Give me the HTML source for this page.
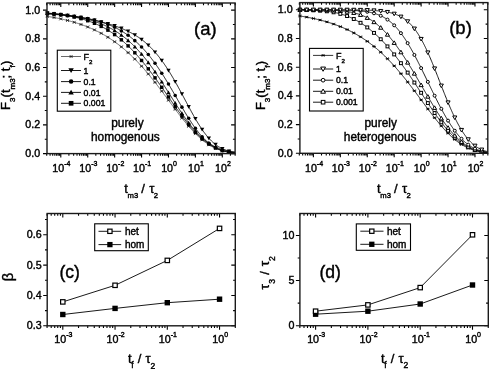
<!DOCTYPE html>
<html><head><meta charset="utf-8"><title>figure</title>
<style>html,body{margin:0;padding:0;background:#fff;}svg{display:block;}</style>
</head><body>
<svg width="493" height="369" viewBox="0 0 493 369" font-family='"Liberation Sans", Arial, Helvetica, sans-serif' fill="#000">
<style>text{stroke:#000;stroke-width:0.4px;}</style>
<rect width="493" height="369" fill="#fff"/>
<defs>
<clipPath id="ca"><rect x="47" y="3" width="188.1" height="150.6"/></clipPath>
<clipPath id="cb"><rect x="299.9" y="2.6" width="187.9" height="150.7"/></clipPath>
</defs>
<polyline points="46.72,16.29 47.2,16.36 47.67,16.44 48.14,16.51 48.61,16.59 49.09,16.66 49.56,16.74 50.03,16.82 50.5,16.9 50.97,16.98 51.45,17.06 51.92,17.14 52.39,17.22 52.86,17.31 53.34,17.39 53.81,17.48 54.28,17.56 54.75,17.65 55.23,17.74 55.7,17.83 56.17,17.92 56.64,18.01 57.11,18.1 57.59,18.2 58.06,18.29 58.53,18.39 59,18.49 59.48,18.58 59.95,18.68 60.42,18.78 60.89,18.89 61.36,18.99 61.84,19.09 62.31,19.2 62.78,19.3 63.25,19.41 63.73,19.52 64.2,19.63 64.67,19.74 65.14,19.85 65.62,19.97 66.09,20.08 66.56,20.2 67.03,20.32 67.5,20.44 67.98,20.56 68.45,20.68 68.92,20.8 69.39,20.93 69.87,21.05 70.34,21.18 70.81,21.31 71.28,21.44 71.75,21.57 72.23,21.7 72.7,21.84 73.17,21.97 73.64,22.11 74.12,22.25 74.59,22.39 75.06,22.53 75.53,22.68 76.01,22.82 76.48,22.97 76.95,23.12 77.42,23.27 77.89,23.42 78.37,23.57 78.84,23.73 79.31,23.89 79.78,24.04 80.26,24.2 80.73,24.37 81.2,24.53 81.67,24.7 82.15,24.86 82.62,25.03 83.09,25.2 83.56,25.38 84.03,25.55 84.51,25.73 84.98,25.91 85.45,26.09 85.92,26.27 86.4,26.46 86.87,26.64 87.34,26.83 87.81,27.02 88.28,27.21 88.76,27.41 89.23,27.6 89.7,27.8 90.17,28 90.65,28.21 91.12,28.41 91.59,28.62 92.06,28.83 92.54,29.04 93.01,29.25 93.48,29.47 93.95,29.69 94.42,29.91 94.9,30.13 95.37,30.36 95.84,30.58 96.31,30.81 96.79,31.05 97.26,31.28 97.73,31.52 98.2,31.76 98.67,32 99.15,32.24 99.62,32.49 100.09,32.74 100.56,32.99 101.04,33.25 101.51,33.5 101.98,33.76 102.45,34.02 102.93,34.29 103.4,34.56 103.87,34.83 104.34,35.1 104.81,35.37 105.29,35.65 105.76,35.93 106.23,36.22 106.7,36.5 107.18,36.79 107.65,37.08 108.12,37.38 108.59,37.67 109.07,37.97 109.54,38.28 110.01,38.58 110.48,38.89 110.95,39.2 111.43,39.52 111.9,39.84 112.37,40.16 112.84,40.48 113.32,40.81 113.79,41.14 114.26,41.47 114.73,41.81 115.2,42.14 115.68,42.49 116.15,42.83 116.62,43.18 117.09,43.53 117.57,43.88 118.04,44.24 118.51,44.6 118.98,44.97 119.46,45.33 119.93,45.7 120.4,46.08 120.87,46.45 121.34,46.83 121.82,47.22 122.29,47.6 122.76,47.99 123.23,48.39 123.71,48.78 124.18,49.18 124.65,49.59 125.12,49.99 125.59,50.4 126.07,50.81 126.54,51.23 127.01,51.65 127.48,52.07 127.96,52.5 128.43,52.93 128.9,53.36 129.37,53.8 129.85,54.24 130.32,54.68 130.79,55.13 131.26,55.58 131.73,56.03 132.21,56.49 132.68,56.95 133.15,57.41 133.62,57.88 134.1,58.35 134.57,58.82 135.04,59.3 135.51,59.78 135.99,60.27 136.46,60.75 136.93,61.24 137.4,61.74 137.87,62.23 138.35,62.73 138.82,63.24 139.29,63.75 139.76,64.26 140.24,64.77 140.71,65.29 141.18,65.81 141.65,66.33 142.12,66.86 142.6,67.39 143.07,67.92 143.54,68.45 144.01,68.99 144.49,69.54 144.96,70.08 145.43,70.63 145.9,71.18 146.38,71.74 146.85,72.29 147.32,72.85 147.79,73.42 148.26,73.98 148.74,74.55 149.21,75.12 149.68,75.7 150.15,76.27 150.63,76.85 151.1,77.44 151.57,78.02 152.04,78.61 152.51,79.2 152.99,79.79 153.46,80.39 153.93,80.98 154.4,81.58 154.88,82.18 155.35,82.79 155.82,83.39 156.29,84 156.77,84.61 157.24,85.22 157.71,85.84 158.18,86.45 158.65,87.07 159.13,87.69 159.6,88.31 160.07,88.94 160.54,89.56 161.02,90.19 161.49,90.81 161.96,91.44 162.43,92.07 162.91,92.7 163.38,93.34 163.85,93.97 164.32,94.6 164.79,95.24 165.27,95.87 165.74,96.51 166.21,97.15 166.68,97.78 167.16,98.42 167.63,99.06 168.1,99.7 168.57,100.34 169.04,100.98 169.52,101.62 169.99,102.25 170.46,102.89 170.93,103.53 171.41,104.17 171.88,104.81 172.35,105.44 172.82,106.08 173.3,106.71 173.77,107.35 174.24,107.98 174.71,108.61 175.18,109.24 175.66,109.87 176.13,110.5 176.6,111.13 177.07,111.75 177.55,112.38 178.02,113 178.49,113.62 178.96,114.23 179.43,114.85 179.91,115.46 180.38,116.07 180.85,116.68 181.32,117.29 181.8,117.89 182.27,118.49 182.74,119.08 183.21,119.68 183.69,120.27 184.16,120.86 184.63,121.44 185.1,122.02 185.57,122.6 186.05,123.17 186.52,123.74 186.99,124.3 187.46,124.87 187.94,125.42 188.41,125.98 188.88,126.53 189.35,127.07 189.83,127.61 190.3,128.14 190.77,128.67 191.24,129.2 191.71,129.72 192.19,130.24 192.66,130.75 193.13,131.25 193.6,131.75 194.08,132.25 194.55,132.74 195.02,133.22 195.49,133.7 195.96,134.17 196.44,134.64 196.91,135.1 197.38,135.56 197.85,136.01 198.33,136.45 198.8,136.89 199.27,137.32 199.74,137.75 200.22,138.17 200.69,138.58 201.16,138.99 201.63,139.39 202.1,139.78 202.58,140.17 203.05,140.55 203.52,140.93 203.99,141.3 204.47,141.66 204.94,142.02 205.41,142.37 205.88,142.71 206.35,143.05 206.83,143.38 207.3,143.7 207.77,144.02 208.24,144.33 208.72,144.63 209.19,144.93 209.66,145.22 210.13,145.51 210.61,145.78 211.08,146.06 211.55,146.32 212.02,146.58 212.49,146.84 212.97,147.08 213.44,147.32 213.91,147.56 214.38,147.79 214.86,148.01 215.33,148.23 215.8,148.44 216.27,148.64 216.75,148.84 217.22,149.03 217.69,149.22 218.16,149.4 218.63,149.58 219.11,149.75 219.58,149.92 220.05,150.08 220.52,150.23 221,150.38 221.47,150.53 221.94,150.67 222.41,150.81 222.88,150.94 223.36,151.06 223.83,151.18 224.3,151.3 224.77,151.41 225.25,151.52 225.72,151.63 226.19,151.73 226.66,151.82 227.14,151.92 227.61,152.01 228.08,152.09 228.55,152.17 229.02,152.25 229.5,152.32 229.97,152.4 230.44,152.46 230.91,152.53 231.39,152.59 231.86,152.65 232.33,152.71 232.8,152.76 233.27,152.81 233.75,152.86 234.22,152.91 234.69,152.95 235.16,152.99" fill="none" stroke="#444" stroke-width="0.8" clip-path="url(#ca)"/>
<path d="M45.84 14.88L48.84 17.88M45.84 17.88L48.84 14.88M45.84 16.38H48.84" stroke="#222" stroke-width="0.8"/>
<path d="M52.57 16.02L55.57 19.02M52.57 19.02L55.57 16.02M52.57 17.52H55.57" stroke="#222" stroke-width="0.8"/>
<path d="M59.3 17.37L62.3 20.37M59.3 20.37L62.3 17.37M59.3 18.87H62.3" stroke="#222" stroke-width="0.8"/>
<path d="M66.03 18.94L69.03 21.94M66.03 21.94L69.03 18.94M66.03 20.44H69.03" stroke="#222" stroke-width="0.8"/>
<path d="M72.76 20.79L75.76 23.79M72.76 23.79L75.76 20.79M72.76 22.29H75.76" stroke="#222" stroke-width="0.8"/>
<path d="M79.49 22.96L82.49 25.96M79.49 25.96L82.49 22.96M79.49 24.46H82.49" stroke="#222" stroke-width="0.8"/>
<path d="M86.22 25.48L89.22 28.48M86.22 28.48L89.22 25.48M86.22 26.98H89.22" stroke="#222" stroke-width="0.8"/>
<path d="M92.95 28.42L95.95 31.42M92.95 31.42L95.95 28.42M92.95 29.92H95.95" stroke="#222" stroke-width="0.8"/>
<path d="M99.68 31.82L102.68 34.82M99.68 34.82L102.68 31.82M99.68 33.32H102.68" stroke="#222" stroke-width="0.8"/>
<path d="M106.41 35.75L109.41 38.75M106.41 38.75L109.41 35.75M106.41 37.25H109.41" stroke="#222" stroke-width="0.8"/>
<path d="M113.14 40.24L116.14 43.24M113.14 43.24L116.14 40.24M113.14 41.74H116.14" stroke="#222" stroke-width="0.8"/>
<path d="M119.87 45.35L122.87 48.35M119.87 48.35L122.87 45.35M119.87 46.85H122.87" stroke="#222" stroke-width="0.8"/>
<path d="M126.6 51.13L129.6 54.13M126.6 54.13L129.6 51.13M126.6 52.63H129.6" stroke="#222" stroke-width="0.8"/>
<path d="M133.33 57.59L136.33 60.59M133.33 60.59L136.33 57.59M133.33 59.09H136.33" stroke="#222" stroke-width="0.8"/>
<path d="M140.06 64.73L143.06 67.73M140.06 67.73L143.06 64.73M140.06 66.23H143.06" stroke="#222" stroke-width="0.8"/>
<path d="M146.79 72.51L149.79 75.51M146.79 75.51L149.79 72.51M146.79 74.01H149.79" stroke="#222" stroke-width="0.8"/>
<path d="M153.52 80.87L156.52 83.87M153.52 83.87L156.52 80.87M153.52 82.37H156.52" stroke="#222" stroke-width="0.8"/>
<path d="M160.25 89.66L163.25 92.66M160.25 92.66L163.25 89.66M160.25 91.16H163.25" stroke="#222" stroke-width="0.8"/>
<path d="M166.98 98.71L169.98 101.71M166.98 101.71L169.98 98.71M166.98 100.21H169.98" stroke="#222" stroke-width="0.8"/>
<path d="M173.71 107.78L176.71 110.78M173.71 110.78L176.71 107.78M173.71 109.28H176.71" stroke="#222" stroke-width="0.8"/>
<path d="M180.44 116.57L183.44 119.57M180.44 119.57L183.44 116.57M180.44 118.07H183.44" stroke="#222" stroke-width="0.8"/>
<path d="M187.17 124.78L190.17 127.78M187.17 127.78L190.17 124.78M187.17 126.28H190.17" stroke="#222" stroke-width="0.8"/>
<path d="M193.9 132.11L196.9 135.11M193.9 135.11L196.9 132.11M193.9 133.61H196.9" stroke="#222" stroke-width="0.8"/>
<path d="M200.63 138.31L203.63 141.31M200.63 141.31L203.63 138.31M200.63 139.81H203.63" stroke="#222" stroke-width="0.8"/>
<path d="M207.36 143.22L210.36 146.22M207.36 146.22L210.36 143.22M207.36 144.72H210.36" stroke="#222" stroke-width="0.8"/>
<path d="M214.09 146.84L217.09 149.84M214.09 149.84L217.09 146.84M214.09 148.34H217.09" stroke="#222" stroke-width="0.8"/>
<path d="M220.82 149.28L223.82 152.28M220.82 152.28L223.82 149.28M220.82 150.78H223.82" stroke="#222" stroke-width="0.8"/>
<path d="M227.55 150.75L230.55 153.75M227.55 153.75L230.55 150.75M227.55 152.25H230.55" stroke="#222" stroke-width="0.8"/>
<polyline points="46.72,12.92 47.2,12.96 47.67,13 48.14,13.05 48.61,13.09 49.09,13.14 49.56,13.18 50.03,13.23 50.5,13.28 50.97,13.32 51.45,13.37 51.92,13.42 52.39,13.47 52.86,13.53 53.34,13.58 53.81,13.63 54.28,13.69 54.75,13.74 55.23,13.8 55.7,13.85 56.17,13.91 56.64,13.97 57.11,14.03 57.59,14.09 58.06,14.15 58.53,14.21 59,14.28 59.48,14.34 59.95,14.41 60.42,14.47 60.89,14.54 61.36,14.61 61.84,14.68 62.31,14.75 62.78,14.82 63.25,14.89 63.73,14.97 64.2,15.04 64.67,15.12 65.14,15.2 65.62,15.28 66.09,15.36 66.56,15.44 67.03,15.52 67.5,15.61 67.98,15.69 68.45,15.78 68.92,15.87 69.39,15.96 69.87,16.05 70.34,16.14 70.81,16.23 71.28,16.33 71.75,16.43 72.23,16.52 72.7,16.62 73.17,16.72 73.64,16.83 74.12,16.93 74.59,17.04 75.06,17.15 75.53,17.26 76.01,17.37 76.48,17.48 76.95,17.59 77.42,17.71 77.89,17.83 78.37,17.95 78.84,18.07 79.31,18.19 79.78,18.32 80.26,18.44 80.73,18.57 81.2,18.71 81.67,18.84 82.15,18.97 82.62,19.11 83.09,19.25 83.56,19.39 84.03,19.53 84.51,19.68 84.98,19.83 85.45,19.98 85.92,20.13 86.4,20.28 86.87,20.44 87.34,20.6 87.81,20.76 88.28,20.92 88.76,21.09 89.23,21.25 89.7,21.42 90.17,21.6 90.65,21.77 91.12,21.95 91.59,22.13 92.06,22.31 92.54,22.5 93.01,22.69 93.48,22.88 93.95,23.07 94.42,23.27 94.9,23.47 95.37,23.67 95.84,23.87 96.31,24.08 96.79,24.29 97.26,24.5 97.73,24.72 98.2,24.94 98.67,25.16 99.15,25.38 99.62,25.61 100.09,25.84 100.56,26.08 101.04,26.31 101.51,26.55 101.98,26.8 102.45,27.04 102.93,27.29 103.4,27.54 103.87,27.8 104.34,28.06 104.81,28.32 105.29,28.59 105.76,28.86 106.23,29.13 106.7,29.41 107.18,29.69 107.65,29.97 108.12,30.26 108.59,30.55 109.07,30.84 109.54,31.14 110.01,31.44 110.48,31.75 110.95,32.06 111.43,32.37 111.9,32.68 112.37,33 112.84,33.33 113.32,33.65 113.79,33.98 114.26,34.32 114.73,34.66 115.2,35 115.68,35.35 116.15,35.7 116.62,36.05 117.09,36.41 117.57,36.77 118.04,37.14 118.51,37.51 118.98,37.88 119.46,38.26 119.93,38.64 120.4,39.03 120.87,39.42 121.34,39.81 121.82,40.21 122.29,40.61 122.76,41.02 123.23,41.43 123.71,41.85 124.18,42.26 124.65,42.69 125.12,43.11 125.59,43.55 126.07,43.98 126.54,44.42 127.01,44.86 127.48,45.31 127.96,45.76 128.43,46.22 128.9,46.68 129.37,47.14 129.85,47.61 130.32,48.08 130.79,48.56 131.26,49.04 131.73,49.52 132.21,50.01 132.68,50.5 133.15,51 133.62,51.5 134.1,52 134.57,52.51 135.04,53.02 135.51,53.53 135.99,54.05 136.46,54.58 136.93,55.1 137.4,55.63 137.87,56.17 138.35,56.71 138.82,57.25 139.29,57.79 139.76,58.34 140.24,58.89 140.71,59.45 141.18,60.01 141.65,60.57 142.12,61.14 142.6,61.71 143.07,62.29 143.54,62.86 144.01,63.44 144.49,64.03 144.96,64.62 145.43,65.21 145.9,65.8 146.38,66.4 146.85,67 147.32,67.6 147.79,68.21 148.26,68.82 148.74,69.43 149.21,70.05 149.68,70.67 150.15,71.29 150.63,71.92 151.1,72.54 151.57,73.17 152.04,73.81 152.51,74.44 152.99,75.08 153.46,75.72 153.93,76.36 154.4,77.01 154.88,77.66 155.35,78.31 155.82,78.96 156.29,79.61 156.77,80.27 157.24,80.93 157.71,81.59 158.18,82.25 158.65,82.91 159.13,83.58 159.6,84.24 160.07,84.91 160.54,85.58 161.02,86.25 161.49,86.93 161.96,87.6 162.43,88.28 162.91,88.95 163.38,89.63 163.85,90.31 164.32,90.98 164.79,91.66 165.27,92.34 165.74,93.02 166.21,93.7 166.68,94.39 167.16,95.07 167.63,95.75 168.1,96.43 168.57,97.11 169.04,97.79 169.52,98.47 169.99,99.15 170.46,99.83 170.93,100.51 171.41,101.19 171.88,101.87 172.35,102.55 172.82,103.22 173.3,103.9 173.77,104.57 174.24,105.24 174.71,105.91 175.18,106.58 175.66,107.25 176.13,107.92 176.6,108.58 177.07,109.24 177.55,109.9 178.02,110.56 178.49,111.22 178.96,111.87 179.43,112.52 179.91,113.17 180.38,113.82 180.85,114.46 181.32,115.1 181.8,115.73 182.27,116.37 182.74,117 183.21,117.62 183.69,118.25 184.16,118.87 184.63,119.48 185.1,120.1 185.57,120.7 186.05,121.31 186.52,121.91 186.99,122.5 187.46,123.1 187.94,123.68 188.41,124.27 188.88,124.84 189.35,125.42 189.83,125.98 190.3,126.55 190.77,127.11 191.24,127.66 191.71,128.21 192.19,128.75 192.66,129.29 193.13,129.82 193.6,130.35 194.08,130.87 194.55,131.38 195.02,131.89 195.49,132.4 195.96,132.9 196.44,133.39 196.91,133.87 197.38,134.35 197.85,134.83 198.33,135.3 198.8,135.76 199.27,136.21 199.74,136.66 200.22,137.1 200.69,137.54 201.16,137.97 201.63,138.39 202.1,138.81 202.58,139.22 203.05,139.62 203.52,140.02 203.99,140.41 204.47,140.79 204.94,141.17 205.41,141.54 205.88,141.9 206.35,142.26 206.83,142.61 207.3,142.95 207.77,143.29 208.24,143.62 208.72,143.94 209.19,144.26 209.66,144.57 210.13,144.87 210.61,145.16 211.08,145.45 211.55,145.74 212.02,146.01 212.49,146.28 212.97,146.55 213.44,146.8 213.91,147.06 214.38,147.3 214.86,147.54 215.33,147.77 215.8,148 216.27,148.22 216.75,148.43 217.22,148.64 217.69,148.84 218.16,149.03 218.63,149.23 219.11,149.41 219.58,149.59 220.05,149.76 220.52,149.93 221,150.09 221.47,150.25 221.94,150.4 222.41,150.55 222.88,150.69 223.36,150.83 223.83,150.96 224.3,151.09 224.77,151.21 225.25,151.33 225.72,151.44 226.19,151.55 226.66,151.66 227.14,151.76 227.61,151.85 228.08,151.95 228.55,152.04 229.02,152.12 229.5,152.2 229.97,152.28 230.44,152.36 230.91,152.43 231.39,152.5 231.86,152.56 232.33,152.62 232.8,152.68 233.27,152.74 233.75,152.79 234.22,152.84 234.69,152.89 235.16,152.94" fill="none" stroke="#000" stroke-width="0.9" clip-path="url(#ca)"/>
<rect x="45.62" y="11.25" width="3.44" height="3.44" fill="#000"/>
<rect x="52.35" y="11.94" width="3.44" height="3.44" fill="#000"/>
<rect x="59.08" y="12.8" width="3.44" height="3.44" fill="#000"/>
<rect x="65.81" y="13.89" width="3.44" height="3.44" fill="#000"/>
<rect x="72.54" y="15.24" width="3.44" height="3.44" fill="#000"/>
<rect x="79.27" y="16.92" width="3.44" height="3.44" fill="#000"/>
<rect x="86" y="19" width="3.44" height="3.44" fill="#000"/>
<rect x="92.73" y="21.56" width="3.44" height="3.44" fill="#000"/>
<rect x="99.46" y="24.66" width="3.44" height="3.44" fill="#000"/>
<rect x="106.19" y="28.41" width="3.44" height="3.44" fill="#000"/>
<rect x="112.92" y="32.87" width="3.44" height="3.44" fill="#000"/>
<rect x="119.65" y="38.11" width="3.44" height="3.44" fill="#000"/>
<rect x="126.38" y="44.18" width="3.44" height="3.44" fill="#000"/>
<rect x="133.11" y="51.07" width="3.44" height="3.44" fill="#000"/>
<rect x="139.84" y="58.74" width="3.44" height="3.44" fill="#000"/>
<rect x="146.57" y="67.13" width="3.44" height="3.44" fill="#000"/>
<rect x="153.3" y="76.13" width="3.44" height="3.44" fill="#000"/>
<rect x="160.03" y="85.58" width="3.44" height="3.44" fill="#000"/>
<rect x="166.76" y="95.25" width="3.44" height="3.44" fill="#000"/>
<rect x="173.49" y="104.9" width="3.44" height="3.44" fill="#000"/>
<rect x="180.22" y="114.21" width="3.44" height="3.44" fill="#000"/>
<rect x="186.95" y="122.86" width="3.44" height="3.44" fill="#000"/>
<rect x="193.68" y="130.58" width="3.44" height="3.44" fill="#000"/>
<rect x="200.41" y="137.11" width="3.44" height="3.44" fill="#000"/>
<rect x="207.14" y="142.31" width="3.44" height="3.44" fill="#000"/>
<rect x="213.87" y="146.17" width="3.44" height="3.44" fill="#000"/>
<rect x="220.6" y="148.8" width="3.44" height="3.44" fill="#000"/>
<rect x="227.33" y="150.4" width="3.44" height="3.44" fill="#000"/>
<polyline points="46.72,13.26 47.2,13.3 47.67,13.33 48.14,13.37 48.61,13.4 49.09,13.44 49.56,13.47 50.03,13.51 50.5,13.55 50.97,13.59 51.45,13.63 51.92,13.67 52.39,13.71 52.86,13.75 53.34,13.79 53.81,13.83 54.28,13.88 54.75,13.92 55.23,13.96 55.7,14.01 56.17,14.05 56.64,14.1 57.11,14.15 57.59,14.2 58.06,14.24 58.53,14.29 59,14.34 59.48,14.39 59.95,14.45 60.42,14.5 60.89,14.55 61.36,14.6 61.84,14.66 62.31,14.72 62.78,14.77 63.25,14.83 63.73,14.89 64.2,14.95 64.67,15.01 65.14,15.07 65.62,15.13 66.09,15.19 66.56,15.26 67.03,15.32 67.5,15.39 67.98,15.45 68.45,15.52 68.92,15.59 69.39,15.66 69.87,15.73 70.34,15.8 70.81,15.87 71.28,15.95 71.75,16.02 72.23,16.1 72.7,16.18 73.17,16.26 73.64,16.34 74.12,16.42 74.59,16.5 75.06,16.58 75.53,16.67 76.01,16.76 76.48,16.84 76.95,16.93 77.42,17.02 77.89,17.11 78.37,17.21 78.84,17.3 79.31,17.4 79.78,17.5 80.26,17.59 80.73,17.69 81.2,17.8 81.67,17.9 82.15,18.01 82.62,18.11 83.09,18.22 83.56,18.33 84.03,18.44 84.51,18.55 84.98,18.67 85.45,18.79 85.92,18.9 86.4,19.03 86.87,19.15 87.34,19.27 87.81,19.4 88.28,19.52 88.76,19.65 89.23,19.79 89.7,19.92 90.17,20.05 90.65,20.19 91.12,20.33 91.59,20.47 92.06,20.62 92.54,20.76 93.01,20.91 93.48,21.06 93.95,21.21 94.42,21.37 94.9,21.53 95.37,21.69 95.84,21.85 96.31,22.01 96.79,22.18 97.26,22.35 97.73,22.52 98.2,22.69 98.67,22.87 99.15,23.05 99.62,23.23 100.09,23.42 100.56,23.6 101.04,23.79 101.51,23.98 101.98,24.18 102.45,24.38 102.93,24.58 103.4,24.78 103.87,24.99 104.34,25.2 104.81,25.41 105.29,25.63 105.76,25.85 106.23,26.07 106.7,26.3 107.18,26.52 107.65,26.76 108.12,26.99 108.59,27.23 109.07,27.47 109.54,27.71 110.01,27.96 110.48,28.22 110.95,28.47 111.43,28.73 111.9,28.99 112.37,29.26 112.84,29.53 113.32,29.8 113.79,30.08 114.26,30.36 114.73,30.64 115.2,30.93 115.68,31.22 116.15,31.52 116.62,31.82 117.09,32.12 117.57,32.43 118.04,32.74 118.51,33.06 118.98,33.38 119.46,33.7 119.93,34.03 120.4,34.37 120.87,34.7 121.34,35.04 121.82,35.39 122.29,35.74 122.76,36.09 123.23,36.45 123.71,36.82 124.18,37.19 124.65,37.56 125.12,37.93 125.59,38.32 126.07,38.7 126.54,39.09 127.01,39.49 127.48,39.89 127.96,40.3 128.43,40.71 128.9,41.12 129.37,41.54 129.85,41.96 130.32,42.39 130.79,42.83 131.26,43.27 131.73,43.71 132.21,44.16 132.68,44.62 133.15,45.07 133.62,45.54 134.1,46.01 134.57,46.48 135.04,46.96 135.51,47.45 135.99,47.94 136.46,48.43 136.93,48.93 137.4,49.43 137.87,49.94 138.35,50.46 138.82,50.98 139.29,51.5 139.76,52.04 140.24,52.57 140.71,53.11 141.18,53.66 141.65,54.21 142.12,54.76 142.6,55.32 143.07,55.89 143.54,56.46 144.01,57.04 144.49,57.62 144.96,58.2 145.43,58.8 145.9,59.39 146.38,59.99 146.85,60.6 147.32,61.21 147.79,61.82 148.26,62.44 148.74,63.07 149.21,63.7 149.68,64.33 150.15,64.97 150.63,65.61 151.1,66.26 151.57,66.91 152.04,67.57 152.51,68.23 152.99,68.89 153.46,69.56 153.93,70.23 154.4,70.91 154.88,71.59 155.35,72.27 155.82,72.96 156.29,73.65 156.77,74.35 157.24,75.05 157.71,75.75 158.18,76.46 158.65,77.16 159.13,77.88 159.6,78.59 160.07,79.31 160.54,80.03 161.02,80.75 161.49,81.48 161.96,82.21 162.43,82.94 162.91,83.67 163.38,84.4 163.85,85.14 164.32,85.88 164.79,86.62 165.27,87.36 165.74,88.1 166.21,88.85 166.68,89.59 167.16,90.34 167.63,91.09 168.1,91.84 168.57,92.59 169.04,93.34 169.52,94.08 169.99,94.83 170.46,95.58 170.93,96.33 171.41,97.08 171.88,97.83 172.35,98.58 172.82,99.33 173.3,100.07 173.77,100.82 174.24,101.56 174.71,102.3 175.18,103.04 175.66,103.78 176.13,104.52 176.6,105.25 177.07,105.99 177.55,106.72 178.02,107.44 178.49,108.17 178.96,108.89 179.43,109.61 179.91,110.32 180.38,111.03 180.85,111.74 181.32,112.45 181.8,113.15 182.27,113.84 182.74,114.54 183.21,115.22 183.69,115.91 184.16,116.59 184.63,117.26 185.1,117.93 185.57,118.59 186.05,119.25 186.52,119.91 186.99,120.56 187.46,121.2 187.94,121.83 188.41,122.47 188.88,123.09 189.35,123.71 189.83,124.32 190.3,124.93 190.77,125.53 191.24,126.12 191.71,126.71 192.19,127.29 192.66,127.86 193.13,128.43 193.6,128.99 194.08,129.54 194.55,130.09 195.02,130.63 195.49,131.16 195.96,131.68 196.44,132.2 196.91,132.71 197.38,133.21 197.85,133.71 198.33,134.19 198.8,134.67 199.27,135.14 199.74,135.61 200.22,136.07 200.69,136.52 201.16,136.96 201.63,137.39 202.1,137.82 202.58,138.24 203.05,138.65 203.52,139.05 203.99,139.45 204.47,139.84 204.94,140.22 205.41,140.59 205.88,140.96 206.35,141.31 206.83,141.67 207.3,142.01 207.77,142.35 208.24,142.67 208.72,143 209.19,143.31 209.66,143.62 210.13,143.92 210.61,144.21 211.08,144.5 211.55,144.78 212.02,145.06 212.49,145.32 212.97,145.58 213.44,145.84 213.91,146.08 214.38,146.33 214.86,146.56 215.33,146.79 215.8,147.01 216.27,147.23 216.75,147.44 217.22,147.65 217.69,147.85 218.16,148.04 218.63,148.23 219.11,148.41 219.58,148.59 220.05,148.76 220.52,148.93 221,149.09 221.47,149.25 221.94,149.4 222.41,149.55 222.88,149.7 223.36,149.84 223.83,149.97 224.3,150.1 224.77,150.23 225.25,150.35 225.72,150.47 226.19,150.58 226.66,150.7 227.14,150.8 227.61,150.91 228.08,151.01 228.55,151.1 229.02,151.2 229.5,151.29 229.97,151.38 230.44,151.46 230.91,151.54 231.39,151.62 231.86,151.7 232.33,151.77 232.8,151.84 233.27,151.91 233.75,151.97 234.22,152.03 234.69,152.09 235.16,152.15" fill="none" stroke="#000" stroke-width="0.9" clip-path="url(#ca)"/>
<polygon points="45.19,15.03 49.49,15.03 47.34,11.26" fill="#000"/>
<polygon points="51.92,15.58 56.22,15.58 54.07,11.81" fill="#000"/>
<polygon points="58.65,16.26 62.95,16.26 60.8,12.5" fill="#000"/>
<polygon points="65.38,17.11 69.68,17.11 67.53,13.34" fill="#000"/>
<polygon points="72.11,18.17 76.41,18.17 74.26,14.4" fill="#000"/>
<polygon points="78.84,19.47 83.14,19.47 80.99,15.71" fill="#000"/>
<polygon points="85.57,21.09 89.87,21.09 87.72,17.33" fill="#000"/>
<polygon points="92.3,23.1 96.6,23.1 94.45,19.33" fill="#000"/>
<polygon points="99.03,25.57 103.33,25.57 101.18,21.81" fill="#000"/>
<polygon points="105.76,28.61 110.06,28.61 107.91,24.84" fill="#000"/>
<polygon points="112.49,32.31 116.79,32.31 114.64,28.54" fill="#000"/>
<polygon points="119.22,36.78 123.52,36.78 121.37,33.02" fill="#000"/>
<polygon points="125.95,42.14 130.25,42.14 128.1,38.37" fill="#000"/>
<polygon points="132.68,48.47 136.98,48.47 134.83,44.7" fill="#000"/>
<polygon points="139.41,55.82 143.71,55.82 141.56,52.05" fill="#000"/>
<polygon points="146.14,64.2 150.44,64.2 148.29,60.43" fill="#000"/>
<polygon points="152.87,73.52 157.17,73.52 155.02,69.75" fill="#000"/>
<polygon points="159.6,83.6 163.9,83.6 161.75,79.84" fill="#000"/>
<polygon points="166.33,94.16 170.63,94.16 168.48,90.39" fill="#000"/>
<polygon points="173.06,104.81 177.36,104.81 175.21,101.04" fill="#000"/>
<polygon points="179.79,115.08 184.09,115.08 181.94,111.31" fill="#000"/>
<polygon points="186.52,124.53 190.82,124.53 188.67,120.77" fill="#000"/>
<polygon points="193.25,132.78 197.55,132.78 195.4,129.01" fill="#000"/>
<polygon points="199.98,139.56 204.28,139.56 202.13,135.8" fill="#000"/>
<polygon points="206.71,144.82 211.01,144.82 208.86,141.05" fill="#000"/>
<polygon points="213.44,148.64 217.74,148.64 215.59,144.87" fill="#000"/>
<polygon points="220.17,151.25 224.47,151.25 222.32,147.48" fill="#000"/>
<polygon points="226.9,152.92 231.2,152.92 229.05,149.16" fill="#000"/>
<polyline points="46.72,13.98 47.2,14.01 47.67,14.03 48.14,14.06 48.61,14.08 49.09,14.11 49.56,14.13 50.03,14.16 50.5,14.19 50.97,14.22 51.45,14.24 51.92,14.27 52.39,14.3 52.86,14.33 53.34,14.36 53.81,14.39 54.28,14.42 54.75,14.46 55.23,14.49 55.7,14.52 56.17,14.56 56.64,14.59 57.11,14.62 57.59,14.66 58.06,14.7 58.53,14.73 59,14.77 59.48,14.81 59.95,14.84 60.42,14.88 60.89,14.92 61.36,14.96 61.84,15 62.31,15.05 62.78,15.09 63.25,15.13 63.73,15.17 64.2,15.22 64.67,15.26 65.14,15.31 65.62,15.36 66.09,15.4 66.56,15.45 67.03,15.5 67.5,15.55 67.98,15.6 68.45,15.65 68.92,15.7 69.39,15.75 69.87,15.81 70.34,15.86 70.81,15.92 71.28,15.97 71.75,16.03 72.23,16.09 72.7,16.15 73.17,16.21 73.64,16.27 74.12,16.33 74.59,16.39 75.06,16.45 75.53,16.52 76.01,16.58 76.48,16.65 76.95,16.72 77.42,16.79 77.89,16.86 78.37,16.93 78.84,17 79.31,17.07 79.78,17.15 80.26,17.22 80.73,17.3 81.2,17.37 81.67,17.45 82.15,17.53 82.62,17.61 83.09,17.7 83.56,17.78 84.03,17.87 84.51,17.95 84.98,18.04 85.45,18.13 85.92,18.22 86.4,18.31 86.87,18.4 87.34,18.5 87.81,18.59 88.28,18.69 88.76,18.79 89.23,18.89 89.7,18.99 90.17,19.1 90.65,19.2 91.12,19.31 91.59,19.42 92.06,19.53 92.54,19.64 93.01,19.75 93.48,19.87 93.95,19.99 94.42,20.11 94.9,20.23 95.37,20.35 95.84,20.47 96.31,20.6 96.79,20.73 97.26,20.86 97.73,20.99 98.2,21.13 98.67,21.26 99.15,21.4 99.62,21.54 100.09,21.68 100.56,21.83 101.04,21.98 101.51,22.13 101.98,22.28 102.45,22.43 102.93,22.59 103.4,22.75 103.87,22.91 104.34,23.07 104.81,23.24 105.29,23.4 105.76,23.58 106.23,23.75 106.7,23.93 107.18,24.1 107.65,24.29 108.12,24.47 108.59,24.66 109.07,24.85 109.54,25.04 110.01,25.23 110.48,25.43 110.95,25.63 111.43,25.84 111.9,26.05 112.37,26.26 112.84,26.47 113.32,26.69 113.79,26.91 114.26,27.13 114.73,27.36 115.2,27.59 115.68,27.82 116.15,28.05 116.62,28.29 117.09,28.54 117.57,28.78 118.04,29.04 118.51,29.29 118.98,29.55 119.46,29.81 119.93,30.07 120.4,30.34 120.87,30.62 121.34,30.89 121.82,31.17 122.29,31.46 122.76,31.75 123.23,32.04 123.71,32.34 124.18,32.64 124.65,32.94 125.12,33.25 125.59,33.57 126.07,33.88 126.54,34.21 127.01,34.53 127.48,34.87 127.96,35.2 128.43,35.54 128.9,35.89 129.37,36.24 129.85,36.59 130.32,36.95 130.79,37.32 131.26,37.68 131.73,38.06 132.21,38.44 132.68,38.82 133.15,39.21 133.62,39.61 134.1,40 134.57,40.41 135.04,40.82 135.51,41.23 135.99,41.65 136.46,42.08 136.93,42.51 137.4,42.95 137.87,43.39 138.35,43.83 138.82,44.29 139.29,44.74 139.76,45.21 140.24,45.68 140.71,46.15 141.18,46.63 141.65,47.12 142.12,47.61 142.6,48.11 143.07,48.61 143.54,49.12 144.01,49.64 144.49,50.16 144.96,50.68 145.43,51.22 145.9,51.75 146.38,52.3 146.85,52.85 147.32,53.41 147.79,53.97 148.26,54.54 148.74,55.11 149.21,55.69 149.68,56.27 150.15,56.87 150.63,57.46 151.1,58.07 151.57,58.68 152.04,59.29 152.51,59.91 152.99,60.54 153.46,61.17 153.93,61.81 154.4,62.46 154.88,63.11 155.35,63.76 155.82,64.42 156.29,65.09 156.77,65.76 157.24,66.44 157.71,67.12 158.18,67.81 158.65,68.51 159.13,69.21 159.6,69.91 160.07,70.62 160.54,71.34 161.02,72.06 161.49,72.78 161.96,73.51 162.43,74.25 162.91,74.99 163.38,75.73 163.85,76.48 164.32,77.23 164.79,77.99 165.27,78.75 165.74,79.52 166.21,80.29 166.68,81.06 167.16,81.84 167.63,82.62 168.1,83.4 168.57,84.19 169.04,84.98 169.52,85.77 169.99,86.57 170.46,87.37 170.93,88.17 171.41,88.97 171.88,89.78 172.35,90.59 172.82,91.4 173.3,92.21 173.77,93.02 174.24,93.84 174.71,94.65 175.18,95.47 175.66,96.29 176.13,97.1 176.6,97.92 177.07,98.74 177.55,99.56 178.02,100.38 178.49,101.19 178.96,102.01 179.43,102.83 179.91,103.64 180.38,104.45 180.85,105.27 181.32,106.08 181.8,106.88 182.27,107.69 182.74,108.49 183.21,109.29 183.69,110.09 184.16,110.89 184.63,111.68 185.1,112.47 185.57,113.25 186.05,114.03 186.52,114.8 186.99,115.58 187.46,116.34 187.94,117.1 188.41,117.86 188.88,118.61 189.35,119.36 189.83,120.1 190.3,120.83 190.77,121.56 191.24,122.28 191.71,122.99 192.19,123.7 192.66,124.4 193.13,125.1 193.6,125.78 194.08,126.46 194.55,127.13 195.02,127.79 195.49,128.45 195.96,129.1 196.44,129.73 196.91,130.37 197.38,130.99 197.85,131.6 198.33,132.2 198.8,132.8 199.27,133.38 199.74,133.96 200.22,134.53 200.69,135.09 201.16,135.64 201.63,136.17 202.1,136.7 202.58,137.22 203.05,137.73 203.52,138.23 203.99,138.72 204.47,139.21 204.94,139.68 205.41,140.14 205.88,140.59 206.35,141.03 206.83,141.46 207.3,141.88 207.77,142.29 208.24,142.7 208.72,143.09 209.19,143.47 209.66,143.84 210.13,144.21 210.61,144.56 211.08,144.91 211.55,145.24 212.02,145.57 212.49,145.88 212.97,146.19 213.44,146.49 213.91,146.78 214.38,147.06 214.86,147.33 215.33,147.6 215.8,147.85 216.27,148.1 216.75,148.34 217.22,148.57 217.69,148.79 218.16,149.01 218.63,149.22 219.11,149.42 219.58,149.61 220.05,149.8 220.52,149.98 221,150.15 221.47,150.32 221.94,150.48 222.41,150.63 222.88,150.78 223.36,150.92 223.83,151.05 224.3,151.18 224.77,151.31 225.25,151.43 225.72,151.54 226.19,151.65 226.66,151.75 227.14,151.85 227.61,151.95 228.08,152.04 228.55,152.13 229.02,152.21 229.5,152.29 229.97,152.36 230.44,152.43 230.91,152.5 231.39,152.56 231.86,152.62 232.33,152.68 232.8,152.74 233.27,152.79 233.75,152.84 234.22,152.88 234.69,152.93 235.16,152.97" fill="none" stroke="#000" stroke-width="0.9" clip-path="url(#ca)"/>
<circle cx="47.34" cy="14.01" r="1.78" fill="#000"/>
<circle cx="54.07" cy="14.41" r="1.78" fill="#000"/>
<circle cx="60.8" cy="14.92" r="1.78" fill="#000"/>
<circle cx="67.53" cy="15.55" r="1.78" fill="#000"/>
<circle cx="74.26" cy="16.35" r="1.78" fill="#000"/>
<circle cx="80.99" cy="17.34" r="1.78" fill="#000"/>
<circle cx="87.72" cy="18.58" r="1.78" fill="#000"/>
<circle cx="94.45" cy="20.11" r="1.78" fill="#000"/>
<circle cx="101.18" cy="22.02" r="1.78" fill="#000"/>
<circle cx="107.91" cy="24.39" r="1.78" fill="#000"/>
<circle cx="114.64" cy="27.31" r="1.78" fill="#000"/>
<circle cx="121.37" cy="30.91" r="1.78" fill="#000"/>
<circle cx="128.1" cy="35.3" r="1.78" fill="#000"/>
<circle cx="134.83" cy="40.63" r="1.78" fill="#000"/>
<circle cx="141.56" cy="47.02" r="1.78" fill="#000"/>
<circle cx="148.29" cy="54.57" r="1.78" fill="#000"/>
<circle cx="155.02" cy="63.3" r="1.78" fill="#000"/>
<circle cx="161.75" cy="73.19" r="1.78" fill="#000"/>
<circle cx="168.48" cy="84.03" r="1.78" fill="#000"/>
<circle cx="175.21" cy="95.51" r="1.78" fill="#000"/>
<circle cx="181.94" cy="107.13" r="1.78" fill="#000"/>
<circle cx="188.67" cy="118.28" r="1.78" fill="#000"/>
<circle cx="195.4" cy="128.32" r="1.78" fill="#000"/>
<circle cx="202.13" cy="136.73" r="1.78" fill="#000"/>
<circle cx="208.86" cy="143.21" r="1.78" fill="#000"/>
<circle cx="215.59" cy="147.74" r="1.78" fill="#000"/>
<circle cx="222.32" cy="150.6" r="1.78" fill="#000"/>
<circle cx="229.05" cy="152.21" r="1.78" fill="#000"/>
<polyline points="46.72,13.24 47.2,13.28 47.67,13.32 48.14,13.36 48.61,13.4 49.09,13.44 49.56,13.48 50.03,13.52 50.5,13.56 50.97,13.61 51.45,13.65 51.92,13.69 52.39,13.74 52.86,13.78 53.34,13.82 53.81,13.87 54.28,13.91 54.75,13.96 55.23,14.01 55.7,14.05 56.17,14.1 56.64,14.15 57.11,14.2 57.59,14.25 58.06,14.3 58.53,14.35 59,14.4 59.48,14.45 59.95,14.5 60.42,14.56 60.89,14.61 61.36,14.67 61.84,14.72 62.31,14.78 62.78,14.83 63.25,14.89 63.73,14.95 64.2,15 64.67,15.06 65.14,15.12 65.62,15.18 66.09,15.24 66.56,15.3 67.03,15.36 67.5,15.43 67.98,15.49 68.45,15.55 68.92,15.62 69.39,15.68 69.87,15.75 70.34,15.81 70.81,15.88 71.28,15.95 71.75,16.02 72.23,16.09 72.7,16.16 73.17,16.23 73.64,16.3 74.12,16.37 74.59,16.44 75.06,16.52 75.53,16.59 76.01,16.67 76.48,16.74 76.95,16.82 77.42,16.9 77.89,16.98 78.37,17.05 78.84,17.13 79.31,17.21 79.78,17.3 80.26,17.38 80.73,17.46 81.2,17.54 81.67,17.63 82.15,17.71 82.62,17.8 83.09,17.89 83.56,17.97 84.03,18.06 84.51,18.15 84.98,18.24 85.45,18.33 85.92,18.42 86.4,18.52 86.87,18.61 87.34,18.71 87.81,18.8 88.28,18.9 88.76,18.99 89.23,19.09 89.7,19.19 90.17,19.29 90.65,19.39 91.12,19.49 91.59,19.59 92.06,19.69 92.54,19.8 93.01,19.9 93.48,20.01 93.95,20.11 94.42,20.22 94.9,20.33 95.37,20.44 95.84,20.55 96.31,20.66 96.79,20.77 97.26,20.88 97.73,20.99 98.2,21.11 98.67,21.22 99.15,21.34 99.62,21.46 100.09,21.58 100.56,21.69 101.04,21.82 101.51,21.94 101.98,22.06 102.45,22.18 102.93,22.31 103.4,22.43 103.87,22.56 104.34,22.69 104.81,22.82 105.29,22.95 105.76,23.08 106.23,23.21 106.7,23.35 107.18,23.48 107.65,23.62 108.12,23.76 108.59,23.9 109.07,24.04 109.54,24.19 110.01,24.33 110.48,24.48 110.95,24.62 111.43,24.77 111.9,24.92 112.37,25.08 112.84,25.23 113.32,25.38 113.79,25.54 114.26,25.7 114.73,25.86 115.2,26.02 115.68,26.19 116.15,26.36 116.62,26.52 117.09,26.69 117.57,26.87 118.04,27.04 118.51,27.22 118.98,27.4 119.46,27.58 119.93,27.76 120.4,27.95 120.87,28.13 121.34,28.32 121.82,28.52 122.29,28.71 122.76,28.91 123.23,29.11 123.71,29.31 124.18,29.52 124.65,29.72 125.12,29.93 125.59,30.15 126.07,30.36 126.54,30.58 127.01,30.81 127.48,31.03 127.96,31.26 128.43,31.49 128.9,31.73 129.37,31.96 129.85,32.21 130.32,32.45 130.79,32.7 131.26,32.95 131.73,33.21 132.21,33.47 132.68,33.73 133.15,34 133.62,34.27 134.1,34.54 134.57,34.82 135.04,35.1 135.51,35.39 135.99,35.68 136.46,35.98 136.93,36.28 137.4,36.59 137.87,36.9 138.35,37.21 138.82,37.53 139.29,37.86 139.76,38.19 140.24,38.52 140.71,38.86 141.18,39.21 141.65,39.56 142.12,39.92 142.6,40.28 143.07,40.65 143.54,41.03 144.01,41.41 144.49,41.79 144.96,42.19 145.43,42.59 145.9,42.99 146.38,43.4 146.85,43.82 147.32,44.24 147.79,44.68 148.26,45.11 148.74,45.56 149.21,46.01 149.68,46.46 150.15,46.93 150.63,47.4 151.1,47.87 151.57,48.36 152.04,48.85 152.51,49.35 152.99,49.85 153.46,50.36 153.93,50.88 154.4,51.41 154.88,51.94 155.35,52.48 155.82,53.03 156.29,53.58 156.77,54.15 157.24,54.72 157.71,55.29 158.18,55.88 158.65,56.47 159.13,57.07 159.6,57.68 160.07,58.29 160.54,58.91 161.02,59.54 161.49,60.18 161.96,60.82 162.43,61.47 162.91,62.13 163.38,62.79 163.85,63.47 164.32,64.15 164.79,64.84 165.27,65.53 165.74,66.23 166.21,66.94 166.68,67.66 167.16,68.38 167.63,69.11 168.1,69.85 168.57,70.59 169.04,71.34 169.52,72.1 169.99,72.87 170.46,73.64 170.93,74.41 171.41,75.2 171.88,75.99 172.35,76.78 172.82,77.59 173.3,78.39 173.77,79.21 174.24,80.02 174.71,80.85 175.18,81.68 175.66,82.51 176.13,83.35 176.6,84.19 177.07,85.04 177.55,85.89 178.02,86.75 178.49,87.61 178.96,88.47 179.43,89.34 179.91,90.21 180.38,91.08 180.85,91.96 181.32,92.84 181.8,93.72 182.27,94.6 182.74,95.49 183.21,96.37 183.69,97.26 184.16,98.15 184.63,99.04 185.1,99.93 185.57,100.81 186.05,101.7 186.52,102.59 186.99,103.48 187.46,104.36 187.94,105.25 188.41,106.13 188.88,107.01 189.35,107.89 189.83,108.77 190.3,109.64 190.77,110.51 191.24,111.37 191.71,112.23 192.19,113.09 192.66,113.94 193.13,114.79 193.6,115.63 194.08,116.47 194.55,117.3 195.02,118.12 195.49,118.94 195.96,119.75 196.44,120.55 196.91,121.34 197.38,122.13 197.85,122.91 198.33,123.68 198.8,124.44 199.27,125.2 199.74,125.94 200.22,126.68 200.69,127.4 201.16,128.12 201.63,128.82 202.1,129.52 202.58,130.2 203.05,130.88 203.52,131.54 203.99,132.19 204.47,132.83 204.94,133.46 205.41,134.08 205.88,134.69 206.35,135.28 206.83,135.87 207.3,136.44 207.77,137 208.24,137.55 208.72,138.09 209.19,138.61 209.66,139.13 210.13,139.63 210.61,140.12 211.08,140.59 211.55,141.06 212.02,141.51 212.49,141.95 212.97,142.39 213.44,142.8 213.91,143.21 214.38,143.61 214.86,143.99 215.33,144.37 215.8,144.73 216.27,145.08 216.75,145.42 217.22,145.75 217.69,146.07 218.16,146.38 218.63,146.68 219.11,146.97 219.58,147.25 220.05,147.52 220.52,147.79 221,148.04 221.47,148.28 221.94,148.52 222.41,148.74 222.88,148.96 223.36,149.17 223.83,149.37 224.3,149.56 224.77,149.75 225.25,149.93 225.72,150.1 226.19,150.27 226.66,150.42 227.14,150.58 227.61,150.72 228.08,150.86 228.55,150.99 229.02,151.12 229.5,151.24 229.97,151.36 230.44,151.47 230.91,151.57 231.39,151.68 231.86,151.77 232.33,151.86 232.8,151.95 233.27,152.04 233.75,152.12 234.22,152.19 234.69,152.26 235.16,152.33" fill="none" stroke="#000" stroke-width="0.9" clip-path="url(#ca)"/>
<polygon points="45.19,11.57 49.49,11.57 47.34,15.34" fill="#000"/>
<polygon points="51.92,12.17 56.22,12.17 54.07,15.94" fill="#000"/>
<polygon points="58.65,12.88 62.95,12.88 60.8,16.65" fill="#000"/>
<polygon points="65.38,13.71 69.68,13.71 67.53,17.47" fill="#000"/>
<polygon points="72.11,14.67 76.41,14.67 74.26,18.44" fill="#000"/>
<polygon points="78.84,15.78 83.14,15.78 80.99,19.55" fill="#000"/>
<polygon points="85.57,17.06 89.87,17.06 87.72,20.83" fill="#000"/>
<polygon points="92.3,18.5 96.6,18.5 94.45,22.27" fill="#000"/>
<polygon points="99.03,20.13 103.33,20.13 101.18,23.9" fill="#000"/>
<polygon points="105.76,21.98 110.06,21.98 107.91,25.74" fill="#000"/>
<polygon points="112.49,24.11 116.79,24.11 114.64,27.88" fill="#000"/>
<polygon points="119.22,26.61 123.52,26.61 121.37,30.38" fill="#000"/>
<polygon points="125.95,29.61 130.25,29.61 128.1,33.37" fill="#000"/>
<polygon points="132.68,33.26 136.98,33.26 134.83,37.02" fill="#000"/>
<polygon points="139.41,37.77 143.71,37.77 141.56,41.54" fill="#000"/>
<polygon points="146.14,43.41 150.44,43.41 148.29,47.18" fill="#000"/>
<polygon points="152.87,50.38 157.17,50.38 155.02,54.15" fill="#000"/>
<polygon points="159.6,58.81 163.9,58.81 161.75,62.58" fill="#000"/>
<polygon points="166.33,68.73 170.63,68.73 168.48,72.49" fill="#000"/>
<polygon points="173.06,80 177.36,80 175.21,83.77" fill="#000"/>
<polygon points="179.79,92.27 184.09,92.27 181.94,96.03" fill="#000"/>
<polygon points="186.52,104.9 190.82,104.9 188.67,108.66" fill="#000"/>
<polygon points="193.25,117.05 197.55,117.05 195.4,120.82" fill="#000"/>
<polygon points="199.98,127.83 204.28,127.83 202.13,131.6" fill="#000"/>
<polygon points="206.71,136.53 211.01,136.53 208.86,140.29" fill="#000"/>
<polygon points="213.44,142.85 217.74,142.85 215.59,146.61" fill="#000"/>
<polygon points="220.17,146.98 224.47,146.98 222.32,150.74" fill="#000"/>
<polygon points="226.9,149.4 231.2,149.4 229.05,153.17" fill="#000"/>
<polyline points="299.32,15.9 299.79,15.97 300.26,16.04 300.74,16.12 301.21,16.19 301.68,16.27 302.15,16.35 302.63,16.43 303.1,16.51 303.57,16.59 304.04,16.67 304.52,16.75 304.99,16.83 305.46,16.91 305.93,17 306.41,17.09 306.88,17.17 307.35,17.26 307.82,17.35 308.3,17.44 308.77,17.53 309.24,17.62 309.71,17.71 310.19,17.81 310.66,17.9 311.13,18 311.6,18.1 312.08,18.19 312.55,18.29 313.02,18.39 313.49,18.5 313.97,18.6 314.44,18.7 314.91,18.81 315.38,18.91 315.85,19.02 316.33,19.13 316.8,19.24 317.27,19.35 317.74,19.46 318.22,19.58 318.69,19.69 319.16,19.81 319.63,19.93 320.11,20.05 320.58,20.17 321.05,20.29 321.52,20.41 322,20.54 322.47,20.66 322.94,20.79 323.41,20.92 323.89,21.05 324.36,21.18 324.83,21.31 325.3,21.45 325.78,21.59 326.25,21.72 326.72,21.86 327.19,22 327.67,22.15 328.14,22.29 328.61,22.43 329.08,22.58 329.56,22.73 330.03,22.88 330.5,23.03 330.97,23.19 331.45,23.34 331.92,23.5 332.39,23.66 332.86,23.82 333.34,23.98 333.81,24.14 334.28,24.31 334.75,24.48 335.23,24.65 335.7,24.82 336.17,24.99 336.64,25.17 337.12,25.34 337.59,25.52 338.06,25.7 338.53,25.89 339.01,26.07 339.48,26.26 339.95,26.45 340.42,26.64 340.9,26.83 341.37,27.02 341.84,27.22 342.31,27.42 342.78,27.62 343.26,27.82 343.73,28.03 344.2,28.24 344.67,28.45 345.15,28.66 345.62,28.87 346.09,29.09 346.56,29.31 347.04,29.53 347.51,29.75 347.98,29.98 348.45,30.2 348.93,30.43 349.4,30.67 349.87,30.9 350.34,31.14 350.82,31.38 351.29,31.62 351.76,31.86 352.23,32.11 352.71,32.36 353.18,32.61 353.65,32.87 354.12,33.12 354.6,33.38 355.07,33.64 355.54,33.91 356.01,34.18 356.49,34.45 356.96,34.72 357.43,35 357.9,35.27 358.38,35.55 358.85,35.84 359.32,36.12 359.79,36.41 360.27,36.71 360.74,37 361.21,37.3 361.68,37.6 362.16,37.9 362.63,38.21 363.1,38.52 363.57,38.83 364.05,39.14 364.52,39.46 364.99,39.78 365.46,40.11 365.94,40.43 366.41,40.76 366.88,41.1 367.35,41.43 367.83,41.77 368.3,42.11 368.77,42.46 369.24,42.81 369.71,43.16 370.19,43.51 370.66,43.87 371.13,44.23 371.6,44.59 372.08,44.96 372.55,45.33 373.02,45.71 373.49,46.08 373.97,46.46 374.44,46.85 374.91,47.23 375.38,47.62 375.86,48.02 376.33,48.41 376.8,48.81 377.27,49.22 377.75,49.62 378.22,50.03 378.69,50.45 379.16,50.86 379.64,51.28 380.11,51.71 380.58,52.13 381.05,52.56 381.53,53 382,53.43 382.47,53.87 382.94,54.32 383.42,54.76 383.89,55.21 384.36,55.67 384.83,56.12 385.31,56.59 385.78,57.05 386.25,57.52 386.72,57.99 387.2,58.46 387.67,58.94 388.14,59.42 388.61,59.9 389.09,60.39 389.56,60.88 390.03,61.38 390.5,61.87 390.98,62.37 391.45,62.88 391.92,63.39 392.39,63.9 392.87,64.41 393.34,64.93 393.81,65.45 394.28,65.97 394.76,66.5 395.23,67.03 395.7,67.56 396.17,68.1 396.64,68.64 397.12,69.18 397.59,69.73 398.06,70.27 398.53,70.83 399.01,71.38 399.48,71.94 399.95,72.5 400.42,73.06 400.9,73.63 401.37,74.2 401.84,74.77 402.31,75.34 402.79,75.92 403.26,76.5 403.73,77.08 404.2,77.67 404.68,78.26 405.15,78.85 405.62,79.44 406.09,80.04 406.57,80.63 407.04,81.23 407.51,81.84 407.98,82.44 408.46,83.05 408.93,83.66 409.4,84.27 409.87,84.88 410.35,85.49 410.82,86.11 411.29,86.73 411.76,87.35 412.24,87.97 412.71,88.59 413.18,89.22 413.65,89.84 414.13,90.47 414.6,91.1 415.07,91.73 415.54,92.36 416.02,93 416.49,93.63 416.96,94.26 417.43,94.9 417.91,95.54 418.38,96.17 418.85,96.81 419.32,97.45 419.8,98.09 420.27,98.72 420.74,99.36 421.21,100 421.69,100.64 422.16,101.28 422.63,101.92 423.1,102.56 423.57,103.2 424.05,103.84 424.52,104.47 424.99,105.11 425.46,105.75 425.94,106.38 426.41,107.02 426.88,107.65 427.35,108.28 427.83,108.91 428.3,109.54 428.77,110.17 429.24,110.8 429.72,111.43 430.19,112.05 430.66,112.67 431.13,113.29 431.61,113.91 432.08,114.52 432.55,115.14 433.02,115.75 433.5,116.36 433.97,116.96 434.44,117.56 434.91,118.16 435.39,118.76 435.86,119.36 436.33,119.95 436.8,120.53 437.28,121.12 437.75,121.7 438.22,122.28 438.69,122.85 439.17,123.42 439.64,123.99 440.11,124.55 440.58,125.1 441.06,125.66 441.53,126.21 442,126.75 442.47,127.29 442.95,127.83 443.42,128.36 443.89,128.88 444.36,129.41 444.84,129.92 445.31,130.43 445.78,130.94 446.25,131.44 446.73,131.93 447.2,132.42 447.67,132.91 448.14,133.39 448.62,133.86 449.09,134.33 449.56,134.79 450.03,135.25 450.5,135.7 450.98,136.14 451.45,136.58 451.92,137.01 452.39,137.44 452.87,137.86 453.34,138.27 453.81,138.68 454.28,139.08 454.76,139.47 455.23,139.86 455.7,140.25 456.17,140.62 456.65,140.99 457.12,141.35 457.59,141.71 458.06,142.06 458.54,142.4 459.01,142.74 459.48,143.07 459.95,143.39 460.43,143.71 460.9,144.02 461.37,144.33 461.84,144.62 462.32,144.92 462.79,145.2 463.26,145.48 463.73,145.75 464.21,146.02 464.68,146.28 465.15,146.53 465.62,146.78 466.1,147.02 466.57,147.25 467.04,147.48 467.51,147.71 467.99,147.92 468.46,148.13 468.93,148.34 469.4,148.54 469.88,148.73 470.35,148.92 470.82,149.1 471.29,149.28 471.77,149.45 472.24,149.62 472.71,149.78 473.18,149.93 473.66,150.08 474.13,150.23 474.6,150.37 475.07,150.5 475.55,150.63 476.02,150.76 476.49,150.88 476.96,151 477.43,151.11 477.91,151.22 478.38,151.33 478.85,151.43 479.32,151.52 479.8,151.62 480.27,151.7 480.74,151.79 481.21,151.87 481.69,151.95 482.16,152.02 482.63,152.1 483.1,152.16 483.58,152.23 484.05,152.29 484.52,152.35 484.99,152.41 485.47,152.46 485.94,152.51 486.41,152.56 486.88,152.6 487.36,152.65 487.83,152.69" fill="none" stroke="#000" stroke-width="0.9" clip-path="url(#cb)"/>
<path d="M298.13 15.99H301.74M298.68 14.73L301.19 17.25M298.68 17.25L301.19 14.73" stroke="#000" stroke-width="0.9"/>
<path d="M304.87 17.13H308.47M305.41 15.87L307.93 18.39M305.41 18.39L307.93 15.87" stroke="#000" stroke-width="0.9"/>
<path d="M311.6 18.48H315.2M312.14 17.22L314.66 19.74M312.14 19.74L314.66 17.22" stroke="#000" stroke-width="0.9"/>
<path d="M318.33 20.05H321.93M318.87 18.79L321.39 21.31M318.87 21.31L321.39 18.79" stroke="#000" stroke-width="0.9"/>
<path d="M325.06 21.9H328.66M325.6 20.64L328.12 23.16M325.6 23.16L328.12 20.64" stroke="#000" stroke-width="0.9"/>
<path d="M331.8 24.07H335.4M332.34 22.81L334.86 25.33M332.34 25.33L334.86 22.81" stroke="#000" stroke-width="0.9"/>
<path d="M338.53 26.6H342.13M339.07 25.34L341.59 27.86M339.07 27.86L341.59 25.34" stroke="#000" stroke-width="0.9"/>
<path d="M345.26 29.54H348.86M345.8 28.28L348.32 30.8M345.8 30.8L348.32 28.28" stroke="#000" stroke-width="0.9"/>
<path d="M351.99 32.94H355.59M352.53 31.68L355.05 34.2M352.53 34.2L355.05 31.68" stroke="#000" stroke-width="0.9"/>
<path d="M358.73 36.87H362.33M359.27 35.61L361.79 38.13M359.27 38.13L361.79 35.61" stroke="#000" stroke-width="0.9"/>
<path d="M365.46 41.37H369.06M366 40.11L368.52 42.63M366 42.63L368.52 40.11" stroke="#000" stroke-width="0.9"/>
<path d="M372.19 46.48H375.79M372.73 45.22L375.25 47.74M372.73 47.74L375.25 45.22" stroke="#000" stroke-width="0.9"/>
<path d="M378.92 52.26H382.52M379.46 51L381.98 53.52M379.46 53.52L381.98 51" stroke="#000" stroke-width="0.9"/>
<path d="M385.66 58.73H389.26M386.2 57.47L388.72 59.99M386.2 59.99L388.72 57.47" stroke="#000" stroke-width="0.9"/>
<path d="M392.39 65.87H395.99M392.93 64.61L395.45 67.13M392.93 67.13L395.45 64.61" stroke="#000" stroke-width="0.9"/>
<path d="M399.12 73.66H402.72M399.66 72.4L402.18 74.92M399.66 74.92L402.18 72.4" stroke="#000" stroke-width="0.9"/>
<path d="M405.85 82.02H409.45M406.39 80.76L408.91 83.28M406.39 83.28L408.91 80.76" stroke="#000" stroke-width="0.9"/>
<path d="M412.59 90.82H416.19M413.13 89.56L415.65 92.08M413.13 92.08L415.65 89.56" stroke="#000" stroke-width="0.9"/>
<path d="M419.32 99.88H422.92M419.86 98.62L422.38 101.14M419.86 101.14L422.38 98.62" stroke="#000" stroke-width="0.9"/>
<path d="M426.05 108.95H429.65M426.59 107.69L429.11 110.21M426.59 110.21L429.11 107.69" stroke="#000" stroke-width="0.9"/>
<path d="M432.78 117.75H436.38M433.32 116.49L435.84 119.01M433.32 119.01L435.84 116.49" stroke="#000" stroke-width="0.9"/>
<path d="M439.52 125.96H443.12M440.06 124.7L442.58 127.22M440.06 127.22L442.58 124.7" stroke="#000" stroke-width="0.9"/>
<path d="M446.25 133.29H449.85M446.79 132.03L449.31 134.55M446.79 134.55L449.31 132.03" stroke="#000" stroke-width="0.9"/>
<path d="M452.98 139.5H456.58M453.52 138.24L456.04 140.76M453.52 140.76L456.04 138.24" stroke="#000" stroke-width="0.9"/>
<path d="M459.71 144.42H463.31M460.25 143.16L462.77 145.68M460.25 145.68L462.77 143.16" stroke="#000" stroke-width="0.9"/>
<path d="M466.45 148.04H470.05M466.99 146.78L469.51 149.3M466.99 149.3L469.51 146.78" stroke="#000" stroke-width="0.9"/>
<path d="M473.18 150.48H476.78M473.72 149.22L476.24 151.74M473.72 151.74L476.24 149.22" stroke="#000" stroke-width="0.9"/>
<path d="M479.91 151.95H483.51M480.45 150.69L482.97 153.21M480.45 153.21L482.97 150.69" stroke="#000" stroke-width="0.9"/>
<polyline points="299.32,9.94 299.79,9.94 300.26,9.95 300.74,9.96 301.21,9.96 301.68,9.97 302.15,9.98 302.63,9.99 303.1,10 303.57,10 304.04,10.01 304.52,10.02 304.99,10.03 305.46,10.04 305.93,10.05 306.41,10.07 306.88,10.08 307.35,10.09 307.82,10.1 308.3,10.11 308.77,10.13 309.24,10.14 309.71,10.16 310.19,10.17 310.66,10.19 311.13,10.21 311.6,10.22 312.08,10.24 312.55,10.26 313.02,10.28 313.49,10.3 313.97,10.32 314.44,10.34 314.91,10.36 315.38,10.39 315.85,10.41 316.33,10.43 316.8,10.46 317.27,10.49 317.74,10.52 318.22,10.54 318.69,10.57 319.16,10.61 319.63,10.64 320.11,10.67 320.58,10.71 321.05,10.74 321.52,10.78 322,10.82 322.47,10.86 322.94,10.9 323.41,10.94 323.89,10.99 324.36,11.03 324.83,11.08 325.3,11.13 325.78,11.18 326.25,11.23 326.72,11.29 327.19,11.34 327.67,11.4 328.14,11.46 328.61,11.52 329.08,11.59 329.56,11.65 330.03,11.72 330.5,11.79 330.97,11.87 331.45,11.94 331.92,12.02 332.39,12.1 332.86,12.18 333.34,12.27 333.81,12.35 334.28,12.44 334.75,12.54 335.23,12.63 335.7,12.73 336.17,12.83 336.64,12.93 337.12,13.04 337.59,13.15 338.06,13.26 338.53,13.38 339.01,13.5 339.48,13.62 339.95,13.75 340.42,13.87 340.9,14.01 341.37,14.14 341.84,14.28 342.31,14.42 342.78,14.57 343.26,14.72 343.73,14.87 344.2,15.02 344.67,15.18 345.15,15.35 345.62,15.51 346.09,15.68 346.56,15.86 347.04,16.04 347.51,16.22 347.98,16.4 348.45,16.59 348.93,16.79 349.4,16.98 349.87,17.19 350.34,17.39 350.82,17.6 351.29,17.81 351.76,18.03 352.23,18.25 352.71,18.47 353.18,18.7 353.65,18.94 354.12,19.17 354.6,19.41 355.07,19.66 355.54,19.91 356.01,20.16 356.49,20.42 356.96,20.68 357.43,20.95 357.9,21.22 358.38,21.49 358.85,21.77 359.32,22.05 359.79,22.34 360.27,22.63 360.74,22.92 361.21,23.22 361.68,23.52 362.16,23.83 362.63,24.14 363.1,24.46 363.57,24.77 364.05,25.1 364.52,25.43 364.99,25.76 365.46,26.09 365.94,26.44 366.41,26.78 366.88,27.13 367.35,27.48 367.83,27.84 368.3,28.2 368.77,28.57 369.24,28.94 369.71,29.31 370.19,29.69 370.66,30.07 371.13,30.46 371.6,30.85 372.08,31.25 372.55,31.64 373.02,32.05 373.49,32.46 373.97,32.87 374.44,33.28 374.91,33.7 375.38,34.13 375.86,34.56 376.33,34.99 376.8,35.43 377.27,35.87 377.75,36.32 378.22,36.77 378.69,37.22 379.16,37.68 379.64,38.14 380.11,38.61 380.58,39.08 381.05,39.55 381.53,40.03 382,40.52 382.47,41.01 382.94,41.5 383.42,41.99 383.89,42.49 384.36,43 384.83,43.51 385.31,44.02 385.78,44.53 386.25,45.06 386.72,45.58 387.2,46.11 387.67,46.64 388.14,47.18 388.61,47.72 389.09,48.27 389.56,48.81 390.03,49.37 390.5,49.92 390.98,50.49 391.45,51.05 391.92,51.62 392.39,52.19 392.87,52.77 393.34,53.35 393.81,53.93 394.28,54.52 394.76,55.11 395.23,55.71 395.7,56.31 396.17,56.91 396.64,57.52 397.12,58.13 397.59,58.74 398.06,59.36 398.53,59.98 399.01,60.61 399.48,61.23 399.95,61.87 400.42,62.5 400.9,63.14 401.37,63.78 401.84,64.43 402.31,65.07 402.79,65.73 403.26,66.38 403.73,67.04 404.2,67.7 404.68,68.36 405.15,69.03 405.62,69.7 406.09,70.37 406.57,71.04 407.04,71.72 407.51,72.4 407.98,73.08 408.46,73.77 408.93,74.46 409.4,75.15 409.87,75.84 410.35,76.53 410.82,77.23 411.29,77.93 411.76,78.63 412.24,79.33 412.71,80.04 413.18,80.74 413.65,81.45 414.13,82.16 414.6,82.87 415.07,83.59 415.54,84.3 416.02,85.02 416.49,85.73 416.96,86.45 417.43,87.17 417.91,87.89 418.38,88.61 418.85,89.33 419.32,90.05 419.8,90.77 420.27,91.5 420.74,92.22 421.21,92.94 421.69,93.67 422.16,94.39 422.63,95.11 423.1,95.84 423.57,96.56 424.05,97.28 424.52,98 424.99,98.72 425.46,99.45 425.94,100.16 426.41,100.88 426.88,101.6 427.35,102.32 427.83,103.03 428.3,103.74 428.77,104.46 429.24,105.17 429.72,105.87 430.19,106.58 430.66,107.28 431.13,107.99 431.61,108.68 432.08,109.38 432.55,110.08 433.02,110.77 433.5,111.46 433.97,112.14 434.44,112.82 434.91,113.5 435.39,114.18 435.86,114.85 436.33,115.52 436.8,116.19 437.28,116.85 437.75,117.51 438.22,118.16 438.69,118.81 439.17,119.46 439.64,120.1 440.11,120.73 440.58,121.36 441.06,121.99 441.53,122.61 442,123.23 442.47,123.84 442.95,124.45 443.42,125.05 443.89,125.64 444.36,126.23 444.84,126.82 445.31,127.4 445.78,127.97 446.25,128.54 446.73,129.1 447.2,129.65 447.67,130.2 448.14,130.75 448.62,131.28 449.09,131.81 449.56,132.33 450.03,132.85 450.5,133.36 450.98,133.86 451.45,134.36 451.92,134.85 452.39,135.33 452.87,135.81 453.34,136.28 453.81,136.74 454.28,137.19 454.76,137.64 455.23,138.08 455.7,138.51 456.17,138.94 456.65,139.36 457.12,139.77 457.59,140.17 458.06,140.57 458.54,140.96 459.01,141.34 459.48,141.71 459.95,142.08 460.43,142.44 460.9,142.79 461.37,143.14 461.84,143.47 462.32,143.8 462.79,144.13 463.26,144.44 463.73,144.75 464.21,145.05 464.68,145.35 465.15,145.63 465.62,145.91 466.1,146.19 466.57,146.45 467.04,146.71 467.51,146.96 467.99,147.21 468.46,147.45 468.93,147.68 469.4,147.91 469.88,148.12 470.35,148.34 470.82,148.54 471.29,148.74 471.77,148.94 472.24,149.13 472.71,149.31 473.18,149.48 473.66,149.65 474.13,149.82 474.6,149.98 475.07,150.13 475.55,150.28 476.02,150.42 476.49,150.56 476.96,150.69 477.43,150.82 477.91,150.95 478.38,151.06 478.85,151.18 479.32,151.29 479.8,151.39 480.27,151.49 480.74,151.59 481.21,151.68 481.69,151.77 482.16,151.85 482.63,151.94 483.1,152.01 483.58,152.09 484.05,152.16 484.52,152.22 484.99,152.29 485.47,152.35 485.94,152.41 486.41,152.46 486.88,152.51 487.36,152.56 487.83,152.61" fill="none" stroke="#000" stroke-width="0.9" clip-path="url(#cb)"/>
<rect x="298.49" y="8.49" width="2.9" height="2.9" fill="#fff" stroke="#000" stroke-width="1.0"/>
<rect x="305.22" y="8.62" width="2.9" height="2.9" fill="#fff" stroke="#000" stroke-width="1.0"/>
<rect x="311.95" y="8.84" width="2.9" height="2.9" fill="#fff" stroke="#000" stroke-width="1.0"/>
<rect x="318.68" y="9.22" width="2.9" height="2.9" fill="#fff" stroke="#000" stroke-width="1.0"/>
<rect x="325.41" y="9.85" width="2.9" height="2.9" fill="#fff" stroke="#000" stroke-width="1.0"/>
<rect x="332.15" y="10.86" width="2.9" height="2.9" fill="#fff" stroke="#000" stroke-width="1.0"/>
<rect x="338.88" y="12.4" width="2.9" height="2.9" fill="#fff" stroke="#000" stroke-width="1.0"/>
<rect x="345.61" y="14.6" width="2.9" height="2.9" fill="#fff" stroke="#000" stroke-width="1.0"/>
<rect x="352.34" y="17.56" width="2.9" height="2.9" fill="#fff" stroke="#000" stroke-width="1.0"/>
<rect x="359.08" y="21.34" width="2.9" height="2.9" fill="#fff" stroke="#000" stroke-width="1.0"/>
<rect x="365.81" y="25.96" width="2.9" height="2.9" fill="#fff" stroke="#000" stroke-width="1.0"/>
<rect x="372.54" y="31.44" width="2.9" height="2.9" fill="#fff" stroke="#000" stroke-width="1.0"/>
<rect x="379.27" y="37.77" width="2.9" height="2.9" fill="#fff" stroke="#000" stroke-width="1.0"/>
<rect x="386.01" y="44.95" width="2.9" height="2.9" fill="#fff" stroke="#000" stroke-width="1.0"/>
<rect x="392.74" y="52.96" width="2.9" height="2.9" fill="#fff" stroke="#000" stroke-width="1.0"/>
<rect x="399.47" y="61.72" width="2.9" height="2.9" fill="#fff" stroke="#000" stroke-width="1.0"/>
<rect x="406.2" y="71.16" width="2.9" height="2.9" fill="#fff" stroke="#000" stroke-width="1.0"/>
<rect x="412.94" y="81.11" width="2.9" height="2.9" fill="#fff" stroke="#000" stroke-width="1.0"/>
<rect x="419.67" y="91.35" width="2.9" height="2.9" fill="#fff" stroke="#000" stroke-width="1.0"/>
<rect x="426.4" y="101.62" width="2.9" height="2.9" fill="#fff" stroke="#000" stroke-width="1.0"/>
<rect x="433.13" y="111.58" width="2.9" height="2.9" fill="#fff" stroke="#000" stroke-width="1.0"/>
<rect x="439.87" y="120.89" width="2.9" height="2.9" fill="#fff" stroke="#000" stroke-width="1.0"/>
<rect x="446.6" y="129.19" width="2.9" height="2.9" fill="#fff" stroke="#000" stroke-width="1.0"/>
<rect x="453.33" y="136.21" width="2.9" height="2.9" fill="#fff" stroke="#000" stroke-width="1.0"/>
<rect x="460.06" y="141.79" width="2.9" height="2.9" fill="#fff" stroke="#000" stroke-width="1.0"/>
<rect x="466.8" y="145.89" width="2.9" height="2.9" fill="#fff" stroke="#000" stroke-width="1.0"/>
<rect x="473.53" y="148.65" width="2.9" height="2.9" fill="#fff" stroke="#000" stroke-width="1.0"/>
<rect x="480.26" y="150.32" width="2.9" height="2.9" fill="#fff" stroke="#000" stroke-width="1.0"/>
<polyline points="299.32,9.81 299.79,9.81 300.26,9.81 300.74,9.81 301.21,9.81 301.68,9.82 302.15,9.82 302.63,9.82 303.1,9.82 303.57,9.82 304.04,9.82 304.52,9.83 304.99,9.83 305.46,9.83 305.93,9.83 306.41,9.83 306.88,9.84 307.35,9.84 307.82,9.84 308.3,9.85 308.77,9.85 309.24,9.85 309.71,9.85 310.19,9.86 310.66,9.86 311.13,9.86 311.6,9.87 312.08,9.87 312.55,9.88 313.02,9.88 313.49,9.88 313.97,9.89 314.44,9.89 314.91,9.9 315.38,9.9 315.85,9.91 316.33,9.91 316.8,9.92 317.27,9.92 317.74,9.93 318.22,9.94 318.69,9.94 319.16,9.95 319.63,9.96 320.11,9.96 320.58,9.97 321.05,9.98 321.52,9.99 322,10 322.47,10.01 322.94,10.02 323.41,10.03 323.89,10.04 324.36,10.05 324.83,10.06 325.3,10.07 325.78,10.08 326.25,10.09 326.72,10.11 327.19,10.12 327.67,10.13 328.14,10.15 328.61,10.16 329.08,10.18 329.56,10.2 330.03,10.21 330.5,10.23 330.97,10.25 331.45,10.27 331.92,10.29 332.39,10.31 332.86,10.33 333.34,10.35 333.81,10.38 334.28,10.4 334.75,10.42 335.23,10.45 335.7,10.48 336.17,10.51 336.64,10.54 337.12,10.57 337.59,10.6 338.06,10.63 338.53,10.66 339.01,10.7 339.48,10.74 339.95,10.77 340.42,10.81 340.9,10.86 341.37,10.9 341.84,10.94 342.31,10.99 342.78,11.04 343.26,11.09 343.73,11.14 344.2,11.19 344.67,11.25 345.15,11.3 345.62,11.36 346.09,11.42 346.56,11.49 347.04,11.56 347.51,11.62 347.98,11.7 348.45,11.77 348.93,11.85 349.4,11.92 349.87,12.01 350.34,12.09 350.82,12.18 351.29,12.27 351.76,12.36 352.23,12.46 352.71,12.56 353.18,12.67 353.65,12.77 354.12,12.88 354.6,13 355.07,13.12 355.54,13.24 356.01,13.37 356.49,13.5 356.96,13.63 357.43,13.77 357.9,13.91 358.38,14.06 358.85,14.21 359.32,14.37 359.79,14.53 360.27,14.7 360.74,14.87 361.21,15.04 361.68,15.23 362.16,15.41 362.63,15.6 363.1,15.8 363.57,16 364.05,16.21 364.52,16.43 364.99,16.65 365.46,16.87 365.94,17.1 366.41,17.34 366.88,17.58 367.35,17.83 367.83,18.09 368.3,18.35 368.77,18.62 369.24,18.89 369.71,19.17 370.19,19.46 370.66,19.75 371.13,20.05 371.6,20.36 372.08,20.67 372.55,20.99 373.02,21.32 373.49,21.65 373.97,21.99 374.44,22.34 374.91,22.69 375.38,23.05 375.86,23.42 376.33,23.79 376.8,24.17 377.27,24.56 377.75,24.95 378.22,25.35 378.69,25.76 379.16,26.18 379.64,26.6 380.11,27.03 380.58,27.46 381.05,27.9 381.53,28.35 382,28.81 382.47,29.27 382.94,29.74 383.42,30.21 383.89,30.7 384.36,31.19 384.83,31.68 385.31,32.18 385.78,32.69 386.25,33.21 386.72,33.73 387.2,34.26 387.67,34.79 388.14,35.33 388.61,35.88 389.09,36.43 389.56,36.99 390.03,37.56 390.5,38.13 390.98,38.71 391.45,39.29 391.92,39.88 392.39,40.48 392.87,41.08 393.34,41.68 393.81,42.3 394.28,42.92 394.76,43.54 395.23,44.17 395.7,44.8 396.17,45.45 396.64,46.09 397.12,46.74 397.59,47.4 398.06,48.06 398.53,48.73 399.01,49.4 399.48,50.08 399.95,50.76 400.42,51.44 400.9,52.14 401.37,52.83 401.84,53.53 402.31,54.24 402.79,54.95 403.26,55.66 403.73,56.38 404.2,57.1 404.68,57.83 405.15,58.56 405.62,59.3 406.09,60.03 406.57,60.78 407.04,61.52 407.51,62.27 407.98,63.03 408.46,63.78 408.93,64.54 409.4,65.31 409.87,66.07 410.35,66.84 410.82,67.62 411.29,68.39 411.76,69.17 412.24,69.95 412.71,70.74 413.18,71.52 413.65,72.31 414.13,73.1 414.6,73.89 415.07,74.69 415.54,75.49 416.02,76.29 416.49,77.09 416.96,77.89 417.43,78.69 417.91,79.5 418.38,80.3 418.85,81.11 419.32,81.92 419.8,82.73 420.27,83.54 420.74,84.35 421.21,85.16 421.69,85.97 422.16,86.79 422.63,87.6 423.1,88.41 423.57,89.22 424.05,90.03 424.52,90.84 424.99,91.66 425.46,92.47 425.94,93.27 426.41,94.08 426.88,94.89 427.35,95.7 427.83,96.5 428.3,97.3 428.77,98.11 429.24,98.91 429.72,99.7 430.19,100.5 430.66,101.29 431.13,102.08 431.61,102.87 432.08,103.66 432.55,104.44 433.02,105.22 433.5,106 433.97,106.77 434.44,107.54 434.91,108.31 435.39,109.07 435.86,109.83 436.33,110.58 436.8,111.34 437.28,112.08 437.75,112.83 438.22,113.56 438.69,114.3 439.17,115.03 439.64,115.75 440.11,116.47 440.58,117.18 441.06,117.89 441.53,118.59 442,119.29 442.47,119.98 442.95,120.66 443.42,121.34 443.89,122.02 444.36,122.68 444.84,123.35 445.31,124 445.78,124.65 446.25,125.29 446.73,125.92 447.2,126.55 447.67,127.17 448.14,127.78 448.62,128.39 449.09,128.99 449.56,129.58 450.03,130.16 450.5,130.74 450.98,131.31 451.45,131.87 451.92,132.42 452.39,132.97 452.87,133.51 453.34,134.04 453.81,134.56 454.28,135.07 454.76,135.58 455.23,136.08 455.7,136.57 456.17,137.05 456.65,137.52 457.12,137.99 457.59,138.44 458.06,138.89 458.54,139.33 459.01,139.76 459.48,140.19 459.95,140.6 460.43,141.01 460.9,141.41 461.37,141.8 461.84,142.18 462.32,142.55 462.79,142.92 463.26,143.27 463.73,143.62 464.21,143.96 464.68,144.3 465.15,144.62 465.62,144.94 466.1,145.25 466.57,145.55 467.04,145.84 467.51,146.13 467.99,146.41 468.46,146.68 468.93,146.94 469.4,147.19 469.88,147.44 470.35,147.68 470.82,147.92 471.29,148.14 471.77,148.36 472.24,148.58 472.71,148.78 473.18,148.98 473.66,149.17 474.13,149.36 474.6,149.54 475.07,149.72 475.55,149.88 476.02,150.05 476.49,150.2 476.96,150.35 477.43,150.5 477.91,150.64 478.38,150.77 478.85,150.9 479.32,151.02 479.8,151.14 480.27,151.25 480.74,151.36 481.21,151.47 481.69,151.57 482.16,151.66 482.63,151.76 483.1,151.84 483.58,151.93 484.05,152.01 484.52,152.08 484.99,152.15 485.47,152.22 485.94,152.29 486.41,152.35 486.88,152.41 487.36,152.46 487.83,152.52" fill="none" stroke="#000" stroke-width="0.9" clip-path="url(#cb)"/>
<polygon points="297.89,11.45 301.98,11.45 299.94,7.86" fill="#fff" stroke="#000" stroke-width="1.0" stroke-linejoin="miter"/>
<polygon points="304.62,11.47 308.71,11.47 306.67,7.89" fill="#fff" stroke="#000" stroke-width="1.0" stroke-linejoin="miter"/>
<polygon points="311.35,11.52 315.45,11.52 313.4,7.94" fill="#fff" stroke="#000" stroke-width="1.0" stroke-linejoin="miter"/>
<polygon points="318.08,11.6 322.18,11.6 320.13,8.02" fill="#fff" stroke="#000" stroke-width="1.0" stroke-linejoin="miter"/>
<polygon points="324.82,11.75 328.91,11.75 326.86,8.17" fill="#fff" stroke="#000" stroke-width="1.0" stroke-linejoin="miter"/>
<polygon points="331.55,12 335.64,12 333.6,8.42" fill="#fff" stroke="#000" stroke-width="1.0" stroke-linejoin="miter"/>
<polygon points="338.28,12.44 342.38,12.44 340.33,8.86" fill="#fff" stroke="#000" stroke-width="1.0" stroke-linejoin="miter"/>
<polygon points="345.01,13.2 349.11,13.2 347.06,9.61" fill="#fff" stroke="#000" stroke-width="1.0" stroke-linejoin="miter"/>
<polygon points="351.75,14.44 355.84,14.44 353.79,10.86" fill="#fff" stroke="#000" stroke-width="1.0" stroke-linejoin="miter"/>
<polygon points="358.48,16.43 362.57,16.43 360.53,12.85" fill="#fff" stroke="#000" stroke-width="1.0" stroke-linejoin="miter"/>
<polygon points="365.21,19.42 369.31,19.42 367.26,15.84" fill="#fff" stroke="#000" stroke-width="1.0" stroke-linejoin="miter"/>
<polygon points="371.94,23.65 376.04,23.65 373.99,20.06" fill="#fff" stroke="#000" stroke-width="1.0" stroke-linejoin="miter"/>
<polygon points="378.68,29.23 382.77,29.23 380.72,25.65" fill="#fff" stroke="#000" stroke-width="1.0" stroke-linejoin="miter"/>
<polygon points="385.41,36.19 389.5,36.19 387.46,32.61" fill="#fff" stroke="#000" stroke-width="1.0" stroke-linejoin="miter"/>
<polygon points="392.14,44.43 396.24,44.43 394.19,40.85" fill="#fff" stroke="#000" stroke-width="1.0" stroke-linejoin="miter"/>
<polygon points="398.87,53.81 402.97,53.81 400.92,50.23" fill="#fff" stroke="#000" stroke-width="1.0" stroke-linejoin="miter"/>
<polygon points="405.61,64.14 409.7,64.14 407.65,60.56" fill="#fff" stroke="#000" stroke-width="1.0" stroke-linejoin="miter"/>
<polygon points="412.34,75.18 416.44,75.18 414.39,71.6" fill="#fff" stroke="#000" stroke-width="1.0" stroke-linejoin="miter"/>
<polygon points="419.07,86.64 423.17,86.64 421.12,83.06" fill="#fff" stroke="#000" stroke-width="1.0" stroke-linejoin="miter"/>
<polygon points="425.8,98.18 429.9,98.18 427.85,94.6" fill="#fff" stroke="#000" stroke-width="1.0" stroke-linejoin="miter"/>
<polygon points="432.54,109.41 436.63,109.41 434.58,105.83" fill="#fff" stroke="#000" stroke-width="1.0" stroke-linejoin="miter"/>
<polygon points="439.27,119.92 443.37,119.92 441.32,116.33" fill="#fff" stroke="#000" stroke-width="1.0" stroke-linejoin="miter"/>
<polygon points="446,129.3 450.1,129.3 448.05,125.72" fill="#fff" stroke="#000" stroke-width="1.0" stroke-linejoin="miter"/>
<polygon points="452.73,137.25 456.83,137.25 454.78,133.66" fill="#fff" stroke="#000" stroke-width="1.0" stroke-linejoin="miter"/>
<polygon points="459.47,143.55 463.56,143.55 461.51,139.97" fill="#fff" stroke="#000" stroke-width="1.0" stroke-linejoin="miter"/>
<polygon points="466.2,148.19 470.29,148.19 468.25,144.61" fill="#fff" stroke="#000" stroke-width="1.0" stroke-linejoin="miter"/>
<polygon points="472.93,151.32 477.03,151.32 474.98,147.74" fill="#fff" stroke="#000" stroke-width="1.0" stroke-linejoin="miter"/>
<polygon points="479.66,153.21 483.76,153.21 481.71,149.63" fill="#fff" stroke="#000" stroke-width="1.0" stroke-linejoin="miter"/>
<polyline points="299.32,9.78 299.79,9.78 300.26,9.78 300.74,9.78 301.21,9.78 301.68,9.78 302.15,9.78 302.63,9.78 303.1,9.79 303.57,9.79 304.04,9.79 304.52,9.79 304.99,9.79 305.46,9.79 305.93,9.79 306.41,9.79 306.88,9.79 307.35,9.79 307.82,9.79 308.3,9.79 308.77,9.79 309.24,9.79 309.71,9.79 310.19,9.79 310.66,9.79 311.13,9.79 311.6,9.79 312.08,9.8 312.55,9.8 313.02,9.8 313.49,9.8 313.97,9.8 314.44,9.8 314.91,9.8 315.38,9.8 315.85,9.8 316.33,9.8 316.8,9.8 317.27,9.81 317.74,9.81 318.22,9.81 318.69,9.81 319.16,9.81 319.63,9.81 320.11,9.81 320.58,9.82 321.05,9.82 321.52,9.82 322,9.82 322.47,9.82 322.94,9.82 323.41,9.83 323.89,9.83 324.36,9.83 324.83,9.83 325.3,9.84 325.78,9.84 326.25,9.84 326.72,9.84 327.19,9.85 327.67,9.85 328.14,9.85 328.61,9.85 329.08,9.86 329.56,9.86 330.03,9.86 330.5,9.87 330.97,9.87 331.45,9.88 331.92,9.88 332.39,9.88 332.86,9.89 333.34,9.89 333.81,9.9 334.28,9.9 334.75,9.91 335.23,9.91 335.7,9.92 336.17,9.93 336.64,9.93 337.12,9.94 337.59,9.94 338.06,9.95 338.53,9.96 339.01,9.97 339.48,9.97 339.95,9.98 340.42,9.99 340.9,10 341.37,10.01 341.84,10.02 342.31,10.03 342.78,10.04 343.26,10.05 343.73,10.06 344.2,10.07 344.67,10.08 345.15,10.1 345.62,10.11 346.09,10.12 346.56,10.14 347.04,10.15 347.51,10.17 347.98,10.18 348.45,10.2 348.93,10.22 349.4,10.23 349.87,10.25 350.34,10.27 350.82,10.29 351.29,10.31 351.76,10.34 352.23,10.36 352.71,10.38 353.18,10.41 353.65,10.43 354.12,10.46 354.6,10.49 355.07,10.52 355.54,10.55 356.01,10.58 356.49,10.61 356.96,10.64 357.43,10.68 357.9,10.72 358.38,10.75 358.85,10.79 359.32,10.83 359.79,10.88 360.27,10.92 360.74,10.97 361.21,11.02 361.68,11.07 362.16,11.12 362.63,11.17 363.1,11.23 363.57,11.29 364.05,11.35 364.52,11.41 364.99,11.47 365.46,11.54 365.94,11.61 366.41,11.68 366.88,11.76 367.35,11.84 367.83,11.92 368.3,12 368.77,12.09 369.24,12.18 369.71,12.28 370.19,12.38 370.66,12.48 371.13,12.58 371.6,12.69 372.08,12.81 372.55,12.92 373.02,13.04 373.49,13.17 373.97,13.3 374.44,13.44 374.91,13.58 375.38,13.72 375.86,13.87 376.33,14.03 376.8,14.19 377.27,14.35 377.75,14.53 378.22,14.71 378.69,14.89 379.16,15.08 379.64,15.28 380.11,15.48 380.58,15.69 381.05,15.91 381.53,16.13 382,16.36 382.47,16.6 382.94,16.84 383.42,17.1 383.89,17.36 384.36,17.63 384.83,17.91 385.31,18.19 385.78,18.49 386.25,18.79 386.72,19.1 387.2,19.42 387.67,19.75 388.14,20.09 388.61,20.44 389.09,20.79 389.56,21.16 390.03,21.54 390.5,21.93 390.98,22.32 391.45,22.73 391.92,23.15 392.39,23.57 392.87,24.01 393.34,24.46 393.81,24.92 394.28,25.39 394.76,25.87 395.23,26.36 395.7,26.86 396.17,27.37 396.64,27.9 397.12,28.43 397.59,28.98 398.06,29.53 398.53,30.1 399.01,30.68 399.48,31.27 399.95,31.87 400.42,32.48 400.9,33.1 401.37,33.73 401.84,34.37 402.31,35.02 402.79,35.69 403.26,36.36 403.73,37.05 404.2,37.74 404.68,38.44 405.15,39.16 405.62,39.88 406.09,40.62 406.57,41.36 407.04,42.11 407.51,42.88 407.98,43.65 408.46,44.43 408.93,45.22 409.4,46.02 409.87,46.83 410.35,47.64 410.82,48.47 411.29,49.3 411.76,50.14 412.24,50.99 412.71,51.84 413.18,52.7 413.65,53.57 414.13,54.45 414.6,55.33 415.07,56.22 415.54,57.12 416.02,58.02 416.49,58.92 416.96,59.84 417.43,60.76 417.91,61.68 418.38,62.61 418.85,63.54 419.32,64.48 419.8,65.42 420.27,66.36 420.74,67.31 421.21,68.27 421.69,69.22 422.16,70.18 422.63,71.14 423.1,72.11 423.57,73.07 424.05,74.04 424.52,75.01 424.99,75.99 425.46,76.96 425.94,77.94 426.41,78.91 426.88,79.89 427.35,80.86 427.83,81.84 428.3,82.82 428.77,83.79 429.24,84.77 429.72,85.75 430.19,86.72 430.66,87.69 431.13,88.67 431.61,89.64 432.08,90.6 432.55,91.57 433.02,92.53 433.5,93.49 433.97,94.45 434.44,95.41 434.91,96.36 435.39,97.31 435.86,98.25 436.33,99.19 436.8,100.13 437.28,101.06 437.75,101.99 438.22,102.91 438.69,103.82 439.17,104.74 439.64,105.64 440.11,106.54 440.58,107.44 441.06,108.33 441.53,109.21 442,110.09 442.47,110.95 442.95,111.82 443.42,112.67 443.89,113.52 444.36,114.36 444.84,115.2 445.31,116.02 445.78,116.84 446.25,117.65 446.73,118.45 447.2,119.24 447.67,120.03 448.14,120.8 448.62,121.57 449.09,122.33 449.56,123.08 450.03,123.82 450.5,124.55 450.98,125.27 451.45,125.98 451.92,126.69 452.39,127.38 452.87,128.06 453.34,128.73 453.81,129.4 454.28,130.05 454.76,130.69 455.23,131.33 455.7,131.95 456.17,132.56 456.65,133.16 457.12,133.76 457.59,134.34 458.06,134.91 458.54,135.47 459.01,136.02 459.48,136.56 459.95,137.09 460.43,137.6 460.9,138.11 461.37,138.61 461.84,139.1 462.32,139.57 462.79,140.04 463.26,140.49 463.73,140.94 464.21,141.37 464.68,141.8 465.15,142.21 465.62,142.62 466.1,143.01 466.57,143.39 467.04,143.77 467.51,144.13 467.99,144.49 468.46,144.83 468.93,145.17 469.4,145.49 469.88,145.81 470.35,146.12 470.82,146.42 471.29,146.71 471.77,146.99 472.24,147.26 472.71,147.52 473.18,147.78 473.66,148.02 474.13,148.26 474.6,148.49 475.07,148.72 475.55,148.93 476.02,149.14 476.49,149.34 476.96,149.53 477.43,149.71 477.91,149.89 478.38,150.06 478.85,150.23 479.32,150.39 479.8,150.54 480.27,150.68 480.74,150.82 481.21,150.96 481.69,151.08 482.16,151.21 482.63,151.32 483.1,151.44 483.58,151.54 484.05,151.64 484.52,151.74 484.99,151.83 485.47,151.92 485.94,152 486.41,152.08 486.88,152.16 487.36,152.23 487.83,152.3" fill="none" stroke="#000" stroke-width="0.9" clip-path="url(#cb)"/>
<circle cx="299.94" cy="9.78" r="1.5" fill="#fff" stroke="#000" stroke-width="1.0"/>
<circle cx="306.67" cy="9.79" r="1.5" fill="#fff" stroke="#000" stroke-width="1.0"/>
<circle cx="313.4" cy="9.8" r="1.5" fill="#fff" stroke="#000" stroke-width="1.0"/>
<circle cx="320.13" cy="9.81" r="1.5" fill="#fff" stroke="#000" stroke-width="1.0"/>
<circle cx="326.86" cy="9.84" r="1.5" fill="#fff" stroke="#000" stroke-width="1.0"/>
<circle cx="333.6" cy="9.9" r="1.5" fill="#fff" stroke="#000" stroke-width="1.0"/>
<circle cx="340.33" cy="9.99" r="1.5" fill="#fff" stroke="#000" stroke-width="1.0"/>
<circle cx="347.06" cy="10.15" r="1.5" fill="#fff" stroke="#000" stroke-width="1.0"/>
<circle cx="353.79" cy="10.44" r="1.5" fill="#fff" stroke="#000" stroke-width="1.0"/>
<circle cx="360.53" cy="10.95" r="1.5" fill="#fff" stroke="#000" stroke-width="1.0"/>
<circle cx="367.26" cy="11.82" r="1.5" fill="#fff" stroke="#000" stroke-width="1.0"/>
<circle cx="373.99" cy="13.31" r="1.5" fill="#fff" stroke="#000" stroke-width="1.0"/>
<circle cx="380.72" cy="15.75" r="1.5" fill="#fff" stroke="#000" stroke-width="1.0"/>
<circle cx="387.46" cy="19.6" r="1.5" fill="#fff" stroke="#000" stroke-width="1.0"/>
<circle cx="394.19" cy="25.3" r="1.5" fill="#fff" stroke="#000" stroke-width="1.0"/>
<circle cx="400.92" cy="33.13" r="1.5" fill="#fff" stroke="#000" stroke-width="1.0"/>
<circle cx="407.65" cy="43.11" r="1.5" fill="#fff" stroke="#000" stroke-width="1.0"/>
<circle cx="414.39" cy="54.94" r="1.5" fill="#fff" stroke="#000" stroke-width="1.0"/>
<circle cx="421.12" cy="68.08" r="1.5" fill="#fff" stroke="#000" stroke-width="1.0"/>
<circle cx="427.85" cy="81.89" r="1.5" fill="#fff" stroke="#000" stroke-width="1.0"/>
<circle cx="434.58" cy="95.7" r="1.5" fill="#fff" stroke="#000" stroke-width="1.0"/>
<circle cx="441.32" cy="108.82" r="1.5" fill="#fff" stroke="#000" stroke-width="1.0"/>
<circle cx="448.05" cy="120.65" r="1.5" fill="#fff" stroke="#000" stroke-width="1.0"/>
<circle cx="454.78" cy="130.73" r="1.5" fill="#fff" stroke="#000" stroke-width="1.0"/>
<circle cx="461.51" cy="138.76" r="1.5" fill="#fff" stroke="#000" stroke-width="1.0"/>
<circle cx="468.25" cy="144.68" r="1.5" fill="#fff" stroke="#000" stroke-width="1.0"/>
<circle cx="474.98" cy="148.67" r="1.5" fill="#fff" stroke="#000" stroke-width="1.0"/>
<circle cx="481.71" cy="151.09" r="1.5" fill="#fff" stroke="#000" stroke-width="1.0"/>
<polyline points="299.32,9.78 299.79,9.78 300.26,9.78 300.74,9.78 301.21,9.78 301.68,9.78 302.15,9.78 302.63,9.78 303.1,9.78 303.57,9.78 304.04,9.78 304.52,9.78 304.99,9.78 305.46,9.78 305.93,9.78 306.41,9.78 306.88,9.78 307.35,9.78 307.82,9.78 308.3,9.78 308.77,9.78 309.24,9.78 309.71,9.78 310.19,9.78 310.66,9.78 311.13,9.78 311.6,9.78 312.08,9.78 312.55,9.78 313.02,9.78 313.49,9.78 313.97,9.78 314.44,9.78 314.91,9.78 315.38,9.78 315.85,9.78 316.33,9.78 316.8,9.78 317.27,9.78 317.74,9.78 318.22,9.78 318.69,9.78 319.16,9.78 319.63,9.78 320.11,9.78 320.58,9.78 321.05,9.78 321.52,9.78 322,9.79 322.47,9.79 322.94,9.79 323.41,9.79 323.89,9.79 324.36,9.79 324.83,9.79 325.3,9.79 325.78,9.79 326.25,9.79 326.72,9.79 327.19,9.79 327.67,9.79 328.14,9.79 328.61,9.79 329.08,9.79 329.56,9.79 330.03,9.79 330.5,9.79 330.97,9.8 331.45,9.8 331.92,9.8 332.39,9.8 332.86,9.8 333.34,9.8 333.81,9.8 334.28,9.8 334.75,9.8 335.23,9.8 335.7,9.8 336.17,9.81 336.64,9.81 337.12,9.81 337.59,9.81 338.06,9.81 338.53,9.81 339.01,9.81 339.48,9.82 339.95,9.82 340.42,9.82 340.9,9.82 341.37,9.82 341.84,9.82 342.31,9.83 342.78,9.83 343.26,9.83 343.73,9.83 344.2,9.84 344.67,9.84 345.15,9.84 345.62,9.84 346.09,9.85 346.56,9.85 347.04,9.85 347.51,9.85 347.98,9.86 348.45,9.86 348.93,9.86 349.4,9.87 349.87,9.87 350.34,9.88 350.82,9.88 351.29,9.88 351.76,9.89 352.23,9.89 352.71,9.9 353.18,9.9 353.65,9.91 354.12,9.91 354.6,9.92 355.07,9.93 355.54,9.93 356.01,9.94 356.49,9.95 356.96,9.95 357.43,9.96 357.9,9.97 358.38,9.97 358.85,9.98 359.32,9.99 359.79,10 360.27,10.01 360.74,10.02 361.21,10.03 361.68,10.04 362.16,10.05 362.63,10.06 363.1,10.07 363.57,10.09 364.05,10.1 364.52,10.11 364.99,10.12 365.46,10.14 365.94,10.15 366.41,10.17 366.88,10.19 367.35,10.2 367.83,10.22 368.3,10.24 368.77,10.26 369.24,10.28 369.71,10.3 370.19,10.32 370.66,10.34 371.13,10.36 371.6,10.39 372.08,10.41 372.55,10.44 373.02,10.47 373.49,10.49 373.97,10.52 374.44,10.55 374.91,10.59 375.38,10.62 375.86,10.65 376.33,10.69 376.8,10.73 377.27,10.77 377.75,10.81 378.22,10.85 378.69,10.89 379.16,10.94 379.64,10.98 380.11,11.03 380.58,11.08 381.05,11.14 381.53,11.19 382,11.25 382.47,11.31 382.94,11.37 383.42,11.44 383.89,11.5 384.36,11.57 384.83,11.64 385.31,11.72 385.78,11.8 386.25,11.88 386.72,11.96 387.2,12.05 387.67,12.14 388.14,12.24 388.61,12.34 389.09,12.44 389.56,12.54 390.03,12.66 390.5,12.77 390.98,12.89 391.45,13.01 391.92,13.14 392.39,13.27 392.87,13.41 393.34,13.56 393.81,13.7 394.28,13.86 394.76,14.02 395.23,14.18 395.7,14.36 396.17,14.54 396.64,14.72 397.12,14.91 397.59,15.11 398.06,15.32 398.53,15.53 399.01,15.75 399.48,15.98 399.95,16.22 400.42,16.46 400.9,16.72 401.37,16.98 401.84,17.25 402.31,17.54 402.79,17.83 403.26,18.13 403.73,18.44 404.2,18.76 404.68,19.09 405.15,19.44 405.62,19.79 406.09,20.16 406.57,20.53 407.04,20.92 407.51,21.32 407.98,21.74 408.46,22.17 408.93,22.6 409.4,23.06 409.87,23.52 410.35,24 410.82,24.5 411.29,25.01 411.76,25.53 412.24,26.07 412.71,26.62 413.18,27.18 413.65,27.77 414.13,28.36 414.6,28.98 415.07,29.6 415.54,30.25 416.02,30.91 416.49,31.58 416.96,32.27 417.43,32.98 417.91,33.71 418.38,34.45 418.85,35.2 419.32,35.97 419.8,36.76 420.27,37.57 420.74,38.39 421.21,39.22 421.69,40.08 422.16,40.94 422.63,41.83 423.1,42.73 423.57,43.64 424.05,44.57 424.52,45.51 424.99,46.47 425.46,47.45 425.94,48.43 426.41,49.44 426.88,50.45 427.35,51.48 427.83,52.52 428.3,53.57 428.77,54.64 429.24,55.71 429.72,56.8 430.19,57.9 430.66,59.01 431.13,60.13 431.61,61.26 432.08,62.4 432.55,63.55 433.02,64.7 433.5,65.86 433.97,67.03 434.44,68.21 434.91,69.39 435.39,70.58 435.86,71.77 436.33,72.97 436.8,74.17 437.28,75.37 437.75,76.58 438.22,77.79 438.69,79 439.17,80.21 439.64,81.42 440.11,82.64 440.58,83.85 441.06,85.06 441.53,86.27 442,87.48 442.47,88.68 442.95,89.88 443.42,91.08 443.89,92.28 444.36,93.47 444.84,94.65 445.31,95.83 445.78,97 446.25,98.17 446.73,99.33 447.2,100.48 447.67,101.62 448.14,102.76 448.62,103.88 449.09,105 449.56,106.11 450.03,107.21 450.5,108.3 450.98,109.37 451.45,110.44 451.92,111.49 452.39,112.54 452.87,113.57 453.34,114.59 453.81,115.6 454.28,116.59 454.76,117.57 455.23,118.54 455.7,119.49 456.17,120.43 456.65,121.36 457.12,122.27 457.59,123.17 458.06,124.05 458.54,124.92 459.01,125.77 459.48,126.61 459.95,127.44 460.43,128.25 460.9,129.04 461.37,129.82 461.84,130.58 462.32,131.33 462.79,132.06 463.26,132.78 463.73,133.48 464.21,134.17 464.68,134.84 465.15,135.49 465.62,136.13 466.1,136.76 466.57,137.37 467.04,137.96 467.51,138.54 467.99,139.11 468.46,139.66 468.93,140.19 469.4,140.71 469.88,141.22 470.35,141.71 470.82,142.19 471.29,142.65 471.77,143.1 472.24,143.54 472.71,143.96 473.18,144.37 473.66,144.76 474.13,145.15 474.6,145.52 475.07,145.88 475.55,146.22 476.02,146.55 476.49,146.88 476.96,147.19 477.43,147.48 477.91,147.77 478.38,148.05 478.85,148.31 479.32,148.57 479.8,148.81 480.27,149.05 480.74,149.28 481.21,149.49 481.69,149.7 482.16,149.9 482.63,150.09 483.1,150.27 483.58,150.44 484.05,150.61 484.52,150.76 484.99,150.91 485.47,151.06 485.94,151.19 486.41,151.32 486.88,151.44 487.36,151.56 487.83,151.67" fill="none" stroke="#000" stroke-width="0.9" clip-path="url(#cb)"/>
<polygon points="297.89,8.14 301.98,8.14 299.94,11.72" fill="#fff" stroke="#000" stroke-width="1.0" stroke-linejoin="miter"/>
<polygon points="304.62,8.14 308.71,8.14 306.67,11.72" fill="#fff" stroke="#000" stroke-width="1.0" stroke-linejoin="miter"/>
<polygon points="311.35,8.14 315.45,8.14 313.4,11.73" fill="#fff" stroke="#000" stroke-width="1.0" stroke-linejoin="miter"/>
<polygon points="318.08,8.15 322.18,8.15 320.13,11.73" fill="#fff" stroke="#000" stroke-width="1.0" stroke-linejoin="miter"/>
<polygon points="324.82,8.15 328.91,8.15 326.86,11.73" fill="#fff" stroke="#000" stroke-width="1.0" stroke-linejoin="miter"/>
<polygon points="331.55,8.16 335.64,8.16 333.6,11.75" fill="#fff" stroke="#000" stroke-width="1.0" stroke-linejoin="miter"/>
<polygon points="338.28,8.18 342.38,8.18 340.33,11.76" fill="#fff" stroke="#000" stroke-width="1.0" stroke-linejoin="miter"/>
<polygon points="345.01,8.21 349.11,8.21 347.06,11.8" fill="#fff" stroke="#000" stroke-width="1.0" stroke-linejoin="miter"/>
<polygon points="351.75,8.27 355.84,8.27 353.79,11.86" fill="#fff" stroke="#000" stroke-width="1.0" stroke-linejoin="miter"/>
<polygon points="358.48,8.38 362.57,8.38 360.53,11.96" fill="#fff" stroke="#000" stroke-width="1.0" stroke-linejoin="miter"/>
<polygon points="365.21,8.56 369.31,8.56 367.26,12.14" fill="#fff" stroke="#000" stroke-width="1.0" stroke-linejoin="miter"/>
<polygon points="371.94,8.89 376.04,8.89 373.99,12.47" fill="#fff" stroke="#000" stroke-width="1.0" stroke-linejoin="miter"/>
<polygon points="378.68,9.46 382.77,9.46 380.72,13.04" fill="#fff" stroke="#000" stroke-width="1.0" stroke-linejoin="miter"/>
<polygon points="385.41,10.46 389.5,10.46 387.46,14.05" fill="#fff" stroke="#000" stroke-width="1.0" stroke-linejoin="miter"/>
<polygon points="392.14,12.19 396.24,12.19 394.19,15.77" fill="#fff" stroke="#000" stroke-width="1.0" stroke-linejoin="miter"/>
<polygon points="398.87,15.1 402.97,15.1 400.92,18.68" fill="#fff" stroke="#000" stroke-width="1.0" stroke-linejoin="miter"/>
<polygon points="405.61,19.81 409.7,19.81 407.65,23.39" fill="#fff" stroke="#000" stroke-width="1.0" stroke-linejoin="miter"/>
<polygon points="412.34,27.06 416.44,27.06 414.39,30.65" fill="#fff" stroke="#000" stroke-width="1.0" stroke-linejoin="miter"/>
<polygon points="419.07,37.42 423.17,37.42 421.12,41" fill="#fff" stroke="#000" stroke-width="1.0" stroke-linejoin="miter"/>
<polygon points="425.8,50.94 429.9,50.94 427.85,54.52" fill="#fff" stroke="#000" stroke-width="1.0" stroke-linejoin="miter"/>
<polygon points="432.54,66.93 436.63,66.93 434.58,70.51" fill="#fff" stroke="#000" stroke-width="1.0" stroke-linejoin="miter"/>
<polygon points="439.27,84.09 443.37,84.09 441.32,87.68" fill="#fff" stroke="#000" stroke-width="1.0" stroke-linejoin="miter"/>
<polygon points="446,100.9 450.1,100.9 448.05,104.48" fill="#fff" stroke="#000" stroke-width="1.0" stroke-linejoin="miter"/>
<polygon points="452.73,115.98 456.83,115.98 454.78,119.57" fill="#fff" stroke="#000" stroke-width="1.0" stroke-linejoin="miter"/>
<polygon points="459.47,128.41 463.56,128.41 461.51,132" fill="#fff" stroke="#000" stroke-width="1.0" stroke-linejoin="miter"/>
<polygon points="466.2,137.78 470.29,137.78 468.25,141.36" fill="#fff" stroke="#000" stroke-width="1.0" stroke-linejoin="miter"/>
<polygon points="472.93,144.17 477.03,144.17 474.98,147.75" fill="#fff" stroke="#000" stroke-width="1.0" stroke-linejoin="miter"/>
<polygon points="479.66,148.07 483.76,148.07 481.71,151.66" fill="#fff" stroke="#000" stroke-width="1.0" stroke-linejoin="miter"/>
<path d="M43 153.6H47M231.1 153.6H235.1M43 124.91H47M231.1 124.91H235.1M43 96.23H47M231.1 96.23H235.1M43 67.54H47M231.1 67.54H235.1M43 38.86H47M231.1 38.86H235.1M43 10.17H47M231.1 10.17H235.1M44.8 139.26H47M232.9 139.26H235.1M44.8 110.57H47M232.9 110.57H235.1M44.8 81.89H47M232.9 81.89H235.1M44.8 53.2H47M232.9 53.2H235.1M44.8 24.51H47M232.9 24.51H235.1" stroke="#000" stroke-width="1.1" fill="none"/>
<text x="40.2" y="157" text-anchor="end" font-size="10.7">0.0</text>
<text x="40.2" y="128.31" text-anchor="end" font-size="10.7">0.2</text>
<text x="40.2" y="99.63" text-anchor="end" font-size="10.7">0.4</text>
<text x="40.2" y="70.94" text-anchor="end" font-size="10.7">0.6</text>
<text x="40.2" y="42.26" text-anchor="end" font-size="10.7">0.8</text>
<text x="40.2" y="13.57" text-anchor="end" font-size="10.7">1.0</text>
<path d="M60.8 153.6V157.6M60.8 3V7M87.72 153.6V157.6M87.72 3V7M114.64 153.6V157.6M114.64 3V7M141.56 153.6V157.6M141.56 3V7M168.48 153.6V157.6M168.48 3V7M195.4 153.6V157.6M195.4 3V7M222.32 153.6V157.6M222.32 3V7M46.72 153.6V155.8M46.72 3V5.2M50.09 153.6V155.8M50.09 3V5.2M52.7 153.6V155.8M52.7 3V5.2M54.83 153.6V155.8M54.83 3V5.2M56.63 153.6V155.8M56.63 3V5.2M58.19 153.6V155.8M58.19 3V5.2M59.57 153.6V155.8M59.57 3V5.2M68.9 153.6V155.8M68.9 3V5.2M73.64 153.6V155.8M73.64 3V5.2M77.01 153.6V155.8M77.01 3V5.2M79.62 153.6V155.8M79.62 3V5.2M81.75 153.6V155.8M81.75 3V5.2M83.55 153.6V155.8M83.55 3V5.2M85.11 153.6V155.8M85.11 3V5.2M86.49 153.6V155.8M86.49 3V5.2M95.82 153.6V155.8M95.82 3V5.2M100.56 153.6V155.8M100.56 3V5.2M103.93 153.6V155.8M103.93 3V5.2M106.54 153.6V155.8M106.54 3V5.2M108.67 153.6V155.8M108.67 3V5.2M110.47 153.6V155.8M110.47 3V5.2M112.03 153.6V155.8M112.03 3V5.2M113.41 153.6V155.8M113.41 3V5.2M122.74 153.6V155.8M122.74 3V5.2M127.48 153.6V155.8M127.48 3V5.2M130.85 153.6V155.8M130.85 3V5.2M133.46 153.6V155.8M133.46 3V5.2M135.59 153.6V155.8M135.59 3V5.2M137.39 153.6V155.8M137.39 3V5.2M138.95 153.6V155.8M138.95 3V5.2M140.33 153.6V155.8M140.33 3V5.2M149.66 153.6V155.8M149.66 3V5.2M154.4 153.6V155.8M154.4 3V5.2M157.77 153.6V155.8M157.77 3V5.2M160.38 153.6V155.8M160.38 3V5.2M162.51 153.6V155.8M162.51 3V5.2M164.31 153.6V155.8M164.31 3V5.2M165.87 153.6V155.8M165.87 3V5.2M167.25 153.6V155.8M167.25 3V5.2M176.58 153.6V155.8M176.58 3V5.2M181.32 153.6V155.8M181.32 3V5.2M184.69 153.6V155.8M184.69 3V5.2M187.3 153.6V155.8M187.3 3V5.2M189.43 153.6V155.8M189.43 3V5.2M191.23 153.6V155.8M191.23 3V5.2M192.79 153.6V155.8M192.79 3V5.2M194.17 153.6V155.8M194.17 3V5.2M203.5 153.6V155.8M203.5 3V5.2M208.24 153.6V155.8M208.24 3V5.2M211.61 153.6V155.8M211.61 3V5.2M214.22 153.6V155.8M214.22 3V5.2M216.35 153.6V155.8M216.35 3V5.2M218.15 153.6V155.8M218.15 3V5.2M219.71 153.6V155.8M219.71 3V5.2M221.09 153.6V155.8M221.09 3V5.2M230.42 153.6V155.8M230.42 3V5.2M235.16 153.6V155.8M235.16 3V5.2" stroke="#000" stroke-width="1.1" fill="none"/>
<text x="61.4" y="171.5" text-anchor="middle" font-size="10.7">10<tspan font-size="7" dy="-5.7">-4</tspan></text>
<text x="88.32" y="171.5" text-anchor="middle" font-size="10.7">10<tspan font-size="7" dy="-5.7">-3</tspan></text>
<text x="115.24" y="171.5" text-anchor="middle" font-size="10.7">10<tspan font-size="7" dy="-5.7">-2</tspan></text>
<text x="142.16" y="171.5" text-anchor="middle" font-size="10.7">10<tspan font-size="7" dy="-5.7">-1</tspan></text>
<text x="169.08" y="171.5" text-anchor="middle" font-size="10.7">10<tspan font-size="7" dy="-5.7">0</tspan></text>
<text x="196" y="171.5" text-anchor="middle" font-size="10.7">10<tspan font-size="7" dy="-5.7">1</tspan></text>
<text x="222.92" y="171.5" text-anchor="middle" font-size="10.7">10<tspan font-size="7" dy="-5.7">2</tspan></text>
<rect x="47" y="3" width="188.1" height="150.6" fill="none" stroke="#1a1a1a" stroke-width="1.4"/>
<path d="M295.9 153.3H299.9M483.8 153.3H487.8M295.9 124.6H299.9M483.8 124.6H487.8M295.9 95.89H299.9M483.8 95.89H487.8M295.9 67.19H299.9M483.8 67.19H487.8M295.9 38.48H299.9M483.8 38.48H487.8M295.9 9.78H299.9M483.8 9.78H487.8M297.7 138.95H299.9M485.6 138.95H487.8M297.7 110.24H299.9M485.6 110.24H487.8M297.7 81.54H299.9M485.6 81.54H487.8M297.7 52.83H299.9M485.6 52.83H487.8M297.7 24.13H299.9M485.6 24.13H487.8" stroke="#000" stroke-width="1.1" fill="none"/>
<text x="292.7" y="156.7" text-anchor="end" font-size="10.7">0.0</text>
<text x="292.7" y="128" text-anchor="end" font-size="10.7">0.2</text>
<text x="292.7" y="99.29" text-anchor="end" font-size="10.7">0.4</text>
<text x="292.7" y="70.59" text-anchor="end" font-size="10.7">0.6</text>
<text x="292.7" y="41.88" text-anchor="end" font-size="10.7">0.8</text>
<text x="292.7" y="13.18" text-anchor="end" font-size="10.7">1.0</text>
<path d="M313.4 153.3V157.3M313.4 2.6V6.6M340.33 153.3V157.3M340.33 2.6V6.6M367.26 153.3V157.3M367.26 2.6V6.6M394.19 153.3V157.3M394.19 2.6V6.6M421.12 153.3V157.3M421.12 2.6V6.6M448.05 153.3V157.3M448.05 2.6V6.6M474.98 153.3V157.3M474.98 2.6V6.6M299.32 153.3V155.5M299.32 2.6V4.8M302.68 153.3V155.5M302.68 2.6V4.8M305.29 153.3V155.5M305.29 2.6V4.8M307.43 153.3V155.5M307.43 2.6V4.8M309.23 153.3V155.5M309.23 2.6V4.8M310.79 153.3V155.5M310.79 2.6V4.8M312.17 153.3V155.5M312.17 2.6V4.8M321.51 153.3V155.5M321.51 2.6V4.8M326.25 153.3V155.5M326.25 2.6V4.8M329.61 153.3V155.5M329.61 2.6V4.8M332.22 153.3V155.5M332.22 2.6V4.8M334.36 153.3V155.5M334.36 2.6V4.8M336.16 153.3V155.5M336.16 2.6V4.8M337.72 153.3V155.5M337.72 2.6V4.8M339.1 153.3V155.5M339.1 2.6V4.8M348.44 153.3V155.5M348.44 2.6V4.8M353.18 153.3V155.5M353.18 2.6V4.8M356.54 153.3V155.5M356.54 2.6V4.8M359.15 153.3V155.5M359.15 2.6V4.8M361.29 153.3V155.5M361.29 2.6V4.8M363.09 153.3V155.5M363.09 2.6V4.8M364.65 153.3V155.5M364.65 2.6V4.8M366.03 153.3V155.5M366.03 2.6V4.8M375.37 153.3V155.5M375.37 2.6V4.8M380.11 153.3V155.5M380.11 2.6V4.8M383.47 153.3V155.5M383.47 2.6V4.8M386.08 153.3V155.5M386.08 2.6V4.8M388.22 153.3V155.5M388.22 2.6V4.8M390.02 153.3V155.5M390.02 2.6V4.8M391.58 153.3V155.5M391.58 2.6V4.8M392.96 153.3V155.5M392.96 2.6V4.8M402.3 153.3V155.5M402.3 2.6V4.8M407.04 153.3V155.5M407.04 2.6V4.8M410.4 153.3V155.5M410.4 2.6V4.8M413.01 153.3V155.5M413.01 2.6V4.8M415.15 153.3V155.5M415.15 2.6V4.8M416.95 153.3V155.5M416.95 2.6V4.8M418.51 153.3V155.5M418.51 2.6V4.8M419.89 153.3V155.5M419.89 2.6V4.8M429.23 153.3V155.5M429.23 2.6V4.8M433.97 153.3V155.5M433.97 2.6V4.8M437.33 153.3V155.5M437.33 2.6V4.8M439.94 153.3V155.5M439.94 2.6V4.8M442.08 153.3V155.5M442.08 2.6V4.8M443.88 153.3V155.5M443.88 2.6V4.8M445.44 153.3V155.5M445.44 2.6V4.8M446.82 153.3V155.5M446.82 2.6V4.8M456.16 153.3V155.5M456.16 2.6V4.8M460.9 153.3V155.5M460.9 2.6V4.8M464.26 153.3V155.5M464.26 2.6V4.8M466.87 153.3V155.5M466.87 2.6V4.8M469.01 153.3V155.5M469.01 2.6V4.8M470.81 153.3V155.5M470.81 2.6V4.8M472.37 153.3V155.5M472.37 2.6V4.8M473.75 153.3V155.5M473.75 2.6V4.8M483.09 153.3V155.5M483.09 2.6V4.8M487.83 153.3V155.5M487.83 2.6V4.8" stroke="#000" stroke-width="1.1" fill="none"/>
<text x="314" y="171.5" text-anchor="middle" font-size="10.7">10<tspan font-size="7" dy="-5.7">-4</tspan></text>
<text x="340.93" y="171.5" text-anchor="middle" font-size="10.7">10<tspan font-size="7" dy="-5.7">-3</tspan></text>
<text x="367.86" y="171.5" text-anchor="middle" font-size="10.7">10<tspan font-size="7" dy="-5.7">-2</tspan></text>
<text x="394.79" y="171.5" text-anchor="middle" font-size="10.7">10<tspan font-size="7" dy="-5.7">-1</tspan></text>
<text x="421.72" y="171.5" text-anchor="middle" font-size="10.7">10<tspan font-size="7" dy="-5.7">0</tspan></text>
<text x="448.65" y="171.5" text-anchor="middle" font-size="10.7">10<tspan font-size="7" dy="-5.7">1</tspan></text>
<text x="475.58" y="171.5" text-anchor="middle" font-size="10.7">10<tspan font-size="7" dy="-5.7">2</tspan></text>
<rect x="299.9" y="2.6" width="187.9" height="150.7" fill="none" stroke="#1a1a1a" stroke-width="1.4"/>
<rect x="57.3" y="50.2" width="53.5" height="61" fill="#fff" stroke="#000" stroke-width="1.1"/>
<path d="M61 56.5H81" stroke="#444" stroke-width="0.8"/>
<path d="M69.6 55L72.6 58M69.6 58L72.6 55M69.6 56.5H72.6" stroke="#222" stroke-width="0.8"/>
<text x="83.6" y="59.8" font-size="9">F<tspan font-size="6.2" dy="3.8">2</tspan></text>
<path d="M61 70.5H81" stroke="#000" stroke-width="0.9"/>
<polygon points="68.37,68.32 73.83,68.32 71.1,73.09" fill="#000"/>
<text x="83.6" y="73.6" font-size="8.7">1</text>
<path d="M61 81.6H81" stroke="#000" stroke-width="0.9"/>
<circle cx="71.1" cy="81.6" r="2.26" fill="#000"/>
<text x="83.6" y="84.7" font-size="8.7">0.1</text>
<path d="M61 92.4H81" stroke="#000" stroke-width="0.9"/>
<polygon points="68.37,94.58 73.83,94.58 71.1,89.81" fill="#000"/>
<text x="83.6" y="95.5" font-size="8.7">0.01</text>
<path d="M61 103.3H81" stroke="#000" stroke-width="0.9"/>
<rect x="68.76" y="100.96" width="4.68" height="4.68" fill="#000"/>
<text x="83.6" y="106.4" font-size="8.7">0.001</text>
<rect x="309.5" y="48.4" width="53.7" height="62.6" fill="#fff" stroke="#000" stroke-width="1.1"/>
<path d="M313 55.4H333.2" stroke="#000" stroke-width="0.8"/>
<path d="M321.3 55.4H324.9M321.84 54.14L324.36 56.66M321.84 56.66L324.36 54.14" stroke="#000" stroke-width="0.9"/>
<text x="335.9" y="58.7" font-size="9">F<tspan font-size="6.2" dy="3.8">2</tspan></text>
<path d="M313 69H333.2" stroke="#000" stroke-width="0.9"/>
<polygon points="320.69,67.07 325.52,67.07 323.1,71.29" fill="#fff" stroke="#000" stroke-width="1.0" stroke-linejoin="miter"/>
<text x="335.9" y="72.1" font-size="8.7">1</text>
<path d="M313 80.2H333.2" stroke="#000" stroke-width="0.9"/>
<circle cx="323.1" cy="80.2" r="1.85" fill="#fff" stroke="#000" stroke-width="1.0"/>
<text x="335.9" y="83.3" font-size="8.7">0.1</text>
<path d="M313 91.3H333.2" stroke="#000" stroke-width="0.9"/>
<polygon points="320.69,93.23 325.52,93.23 323.1,89.01" fill="#fff" stroke="#000" stroke-width="1.0" stroke-linejoin="miter"/>
<text x="335.9" y="94.4" font-size="8.7">0.01</text>
<path d="M313 102.2H333.2" stroke="#000" stroke-width="0.9"/>
<rect x="321.3" y="100.4" width="3.6" height="3.6" fill="#fff" stroke="#000" stroke-width="1.0"/>
<text x="335.9" y="105.3" font-size="8.7">0.001</text>
<text x="111.2" y="126.8" font-size="11.9">purely</text>
<text x="91.0" y="141.3" font-size="11.9">homogenous</text>
<text x="364.5" y="127.4" font-size="11.9">purely</text>
<text x="343.8" y="141.2" font-size="11.9">heterogenous</text>
<text x="194.0" y="34.8" font-size="18.5">(a)</text>
<text x="449.2" y="34.1" font-size="18.5">(b)</text>
<text transform="translate(9.9,109.9) rotate(-90)"><tspan x="0" y="0" font-size="13">F</tspan><tspan x="7.94" y="5.3" font-size="8">3</tspan><tspan x="12.39" y="0" font-size="13">(</tspan><tspan x="16.9" y="0" font-size="13">t</tspan><tspan x="20.4" y="5.3" font-size="8">m3</tspan><tspan x="31.44" y="0" font-size="13">;</tspan><tspan x="38.66" y="0" font-size="13">t</tspan><tspan x="42.3" y="5.3" font-size="8">f</tspan><tspan x="44.9" y="0" font-size="13">)</tspan></text>
<text transform="translate(264.6,110.1) rotate(-90)"><tspan x="0" y="0" font-size="13">F</tspan><tspan x="7.94" y="5.3" font-size="8">3</tspan><tspan x="12.39" y="0" font-size="13">(</tspan><tspan x="16.9" y="0" font-size="13">t</tspan><tspan x="20.4" y="5.3" font-size="8">m3</tspan><tspan x="31.44" y="0" font-size="13">;</tspan><tspan x="38.66" y="0" font-size="13">t</tspan><tspan x="42.3" y="5.3" font-size="8">f</tspan><tspan x="44.9" y="0" font-size="13">)</tspan></text>
<text><tspan x="124.31" y="193" font-size="13">t</tspan><tspan x="127.49" y="197.75" font-size="7.7">m3</tspan><tspan x="141.3" y="193" font-size="13">/</tspan><tspan x="149.22" y="193" font-size="13">τ</tspan><tspan x="153.81" y="197.75" font-size="7.7">2</tspan></text>
<text><tspan x="377.11" y="193" font-size="13">t</tspan><tspan x="380.29" y="197.75" font-size="7.7">m3</tspan><tspan x="394.1" y="193" font-size="13">/</tspan><tspan x="402.02" y="193" font-size="13">τ</tspan><tspan x="406.62" y="197.75" font-size="7.7">2</tspan></text>
<text><tspan x="127.91" y="363.1" font-size="13">t</tspan><tspan x="131.18" y="368.15" font-size="8.5">f</tspan><tspan x="137.7" y="363.1" font-size="13">/</tspan><tspan x="145.52" y="363.1" font-size="13">τ</tspan><tspan x="150.57" y="368.65" font-size="8.5">2</tspan></text>
<text><tspan x="380.91" y="362.8" font-size="13">t</tspan><tspan x="384.18" y="367.85" font-size="8.5">f</tspan><tspan x="390.7" y="362.8" font-size="13">/</tspan><tspan x="398.52" y="362.8" font-size="13">τ</tspan><tspan x="403.57" y="368.35" font-size="8.5">2</tspan></text>
<path d="M43.2 325.8H47.2M231.3 325.8H235.3M43.2 295.45H47.2M231.3 295.45H235.3M43.2 265.1H47.2M231.3 265.1H235.3M43.2 234.75H47.2M231.3 234.75H235.3M45 310.62H47.2M233.1 310.62H235.3M45 280.27H47.2M233.1 280.27H235.3M45 249.92H47.2M233.1 249.92H235.3M45 219.57H47.2M233.1 219.57H235.3" stroke="#000" stroke-width="1.1" fill="none"/>
<text x="41.6" y="329.2" text-anchor="end" font-size="10.7">0.3</text>
<text x="41.6" y="298.85" text-anchor="end" font-size="10.7">0.4</text>
<text x="41.6" y="268.5" text-anchor="end" font-size="10.7">0.5</text>
<text x="41.6" y="238.15" text-anchor="end" font-size="10.7">0.6</text>
<path d="M62.8 325.8V329.8M62.8 213.5V217.5M115.05 325.8V329.8M115.05 213.5V217.5M167.3 325.8V329.8M167.3 213.5V217.5M219.55 325.8V329.8M219.55 213.5V217.5M47.07 325.8V328M47.07 213.5V215.7M51.21 325.8V328M51.21 213.5V215.7M54.71 325.8V328M54.71 213.5V215.7M57.74 325.8V328M57.74 213.5V215.7M60.41 325.8V328M60.41 213.5V215.7M78.53 325.8V328M78.53 213.5V215.7M87.73 325.8V328M87.73 213.5V215.7M94.26 325.8V328M94.26 213.5V215.7M99.32 325.8V328M99.32 213.5V215.7M103.46 325.8V328M103.46 213.5V215.7M106.96 325.8V328M106.96 213.5V215.7M109.99 325.8V328M109.99 213.5V215.7M112.66 325.8V328M112.66 213.5V215.7M130.78 325.8V328M130.78 213.5V215.7M139.98 325.8V328M139.98 213.5V215.7M146.51 325.8V328M146.51 213.5V215.7M151.57 325.8V328M151.57 213.5V215.7M155.71 325.8V328M155.71 213.5V215.7M159.21 325.8V328M159.21 213.5V215.7M162.24 325.8V328M162.24 213.5V215.7M164.91 325.8V328M164.91 213.5V215.7M183.03 325.8V328M183.03 213.5V215.7M192.23 325.8V328M192.23 213.5V215.7M198.76 325.8V328M198.76 213.5V215.7M203.82 325.8V328M203.82 213.5V215.7M207.96 325.8V328M207.96 213.5V215.7M211.46 325.8V328M211.46 213.5V215.7M214.49 325.8V328M214.49 213.5V215.7M217.16 325.8V328M217.16 213.5V215.7M235.28 325.8V328M235.28 213.5V215.7" stroke="#000" stroke-width="1.1" fill="none"/>
<text x="63.4" y="342.9" text-anchor="middle" font-size="10.7">10<tspan font-size="7" dy="-6.4">-3</tspan></text>
<text x="115.65" y="342.9" text-anchor="middle" font-size="10.7">10<tspan font-size="7" dy="-6.4">-2</tspan></text>
<text x="167.9" y="342.9" text-anchor="middle" font-size="10.7">10<tspan font-size="7" dy="-6.4">-1</tspan></text>
<text x="220.15" y="342.9" text-anchor="middle" font-size="10.7">10<tspan font-size="7" dy="-6.4">0</tspan></text>
<path d="M295.9 325.7H299.9M484.3 325.7H488.3M295.9 280.57H299.9M484.3 280.57H488.3M295.9 235.43H299.9M484.3 235.43H488.3M297.7 303.13H299.9M486.1 303.13H488.3M297.7 258H299.9M486.1 258H488.3" stroke="#000" stroke-width="1.1" fill="none"/>
<text x="294.4" y="329.1" text-anchor="end" font-size="10.7">0</text>
<text x="294.4" y="283.97" text-anchor="end" font-size="10.7">5</text>
<text x="294.4" y="238.83" text-anchor="end" font-size="10.7">10</text>
<path d="M315.6 325.7V329.7M315.6 213.5V217.5M367.9 325.7V329.7M367.9 213.5V217.5M420.2 325.7V329.7M420.2 213.5V217.5M472.5 325.7V329.7M472.5 213.5V217.5M299.86 325.7V327.9M299.86 213.5V215.7M304 325.7V327.9M304 213.5V215.7M307.5 325.7V327.9M307.5 213.5V215.7M310.53 325.7V327.9M310.53 213.5V215.7M313.21 325.7V327.9M313.21 213.5V215.7M331.34 325.7V327.9M331.34 213.5V215.7M340.55 325.7V327.9M340.55 213.5V215.7M347.09 325.7V327.9M347.09 213.5V215.7M352.16 325.7V327.9M352.16 213.5V215.7M356.3 325.7V327.9M356.3 213.5V215.7M359.8 325.7V327.9M359.8 213.5V215.7M362.83 325.7V327.9M362.83 213.5V215.7M365.51 325.7V327.9M365.51 213.5V215.7M383.64 325.7V327.9M383.64 213.5V215.7M392.85 325.7V327.9M392.85 213.5V215.7M399.39 325.7V327.9M399.39 213.5V215.7M404.46 325.7V327.9M404.46 213.5V215.7M408.6 325.7V327.9M408.6 213.5V215.7M412.1 325.7V327.9M412.1 213.5V215.7M415.13 325.7V327.9M415.13 213.5V215.7M417.81 325.7V327.9M417.81 213.5V215.7M435.94 325.7V327.9M435.94 213.5V215.7M445.15 325.7V327.9M445.15 213.5V215.7M451.69 325.7V327.9M451.69 213.5V215.7M456.76 325.7V327.9M456.76 213.5V215.7M460.9 325.7V327.9M460.9 213.5V215.7M464.4 325.7V327.9M464.4 213.5V215.7M467.43 325.7V327.9M467.43 213.5V215.7M470.11 325.7V327.9M470.11 213.5V215.7M488.24 325.7V327.9M488.24 213.5V215.7" stroke="#000" stroke-width="1.1" fill="none"/>
<text x="316.2" y="342.9" text-anchor="middle" font-size="10.7">10<tspan font-size="7" dy="-6.4">-3</tspan></text>
<text x="368.5" y="342.9" text-anchor="middle" font-size="10.7">10<tspan font-size="7" dy="-6.4">-2</tspan></text>
<text x="420.8" y="342.9" text-anchor="middle" font-size="10.7">10<tspan font-size="7" dy="-6.4">-1</tspan></text>
<text x="473.1" y="342.9" text-anchor="middle" font-size="10.7">10<tspan font-size="7" dy="-6.4">0</tspan></text>
<rect x="47.2" y="213.5" width="188.1" height="112.3" fill="none" stroke="#1a1a1a" stroke-width="1.4"/>
<rect x="299.9" y="213.5" width="188.4" height="112.2" fill="none" stroke="#1a1a1a" stroke-width="1.4"/>
<polyline points="62.8,314.5 115.05,308.4 167.3,302.7 219.55,299.2" fill="none" stroke="#000" stroke-width="0.9"/>
<rect x="60.1" y="311.8" width="5.4" height="5.4" fill="#000"/>
<rect x="112.35" y="305.7" width="5.4" height="5.4" fill="#000"/>
<rect x="164.6" y="300" width="5.4" height="5.4" fill="#000"/>
<rect x="216.85" y="296.5" width="5.4" height="5.4" fill="#000"/>
<polyline points="62.8,301.9 115.05,285.3 167.3,260.4 219.55,228.4" fill="none" stroke="#000" stroke-width="0.9"/>
<rect x="60.6" y="299.7" width="4.4" height="4.4" fill="#fff" stroke="#000" stroke-width="1.2"/>
<rect x="112.85" y="283.1" width="4.4" height="4.4" fill="#fff" stroke="#000" stroke-width="1.2"/>
<rect x="165.1" y="258.2" width="4.4" height="4.4" fill="#fff" stroke="#000" stroke-width="1.2"/>
<rect x="217.35" y="226.2" width="4.4" height="4.4" fill="#fff" stroke="#000" stroke-width="1.2"/>
<polyline points="315.6,314.2 367.9,311.2 420.2,304 472.5,285" fill="none" stroke="#000" stroke-width="0.9"/>
<rect x="312.9" y="311.5" width="5.4" height="5.4" fill="#000"/>
<rect x="365.2" y="308.5" width="5.4" height="5.4" fill="#000"/>
<rect x="417.5" y="301.3" width="5.4" height="5.4" fill="#000"/>
<rect x="469.8" y="282.3" width="5.4" height="5.4" fill="#000"/>
<polyline points="315.6,311.2 367.9,304.9 420.2,287.6 472.5,234.8" fill="none" stroke="#000" stroke-width="0.9"/>
<rect x="313.4" y="309" width="4.4" height="4.4" fill="#fff" stroke="#000" stroke-width="1.2"/>
<rect x="365.7" y="302.7" width="4.4" height="4.4" fill="#fff" stroke="#000" stroke-width="1.2"/>
<rect x="418" y="285.4" width="4.4" height="4.4" fill="#fff" stroke="#000" stroke-width="1.2"/>
<rect x="470.3" y="232.6" width="4.4" height="4.4" fill="#fff" stroke="#000" stroke-width="1.2"/>
<rect x="94.7" y="223.8" width="53.6" height="26.9" fill="#fff" stroke="#000" stroke-width="1.1"/>
<path d="M98.5 231.3H121.2" stroke="#000" stroke-width="0.9"/>
<rect x="107.75" y="229.15" width="4.3" height="4.3" fill="#fff" stroke="#000" stroke-width="1.2"/>
<text x="125" y="234.8" font-size="10">het</text>
<path d="M98.5 244.6H121.2" stroke="#000" stroke-width="0.9"/>
<rect x="107.25" y="241.95" width="5.3" height="5.3" fill="#000"/>
<text x="125" y="248.1" font-size="10">hom</text>
<rect x="356.3" y="223.9" width="54.2" height="26.4" fill="#fff" stroke="#000" stroke-width="1.1"/>
<path d="M360.3 231.2H383.5" stroke="#000" stroke-width="0.9"/>
<rect x="369.65" y="229.05" width="4.3" height="4.3" fill="#fff" stroke="#000" stroke-width="1.2"/>
<text x="387" y="234.7" font-size="10">het</text>
<path d="M360.3 244.3H383.5" stroke="#000" stroke-width="0.9"/>
<rect x="369.15" y="241.65" width="5.3" height="5.3" fill="#000"/>
<text x="387" y="247.8" font-size="10">hom</text>
<text x="59.4" y="278.2" font-size="17.6">(c)</text>
<text x="319.4" y="278.2" font-size="17.6">(d)</text>
<text transform="translate(13.4,281.2) rotate(-90)" font-size="14.8">β</text>
<text transform="translate(268.6,289.6) rotate(-90)"><tspan x="0" y="0" font-size="13.5">τ</tspan><tspan x="5.8" y="6.2" font-size="8.6">3</tspan><tspan x="14.8" y="0" font-size="13">/</tspan><tspan x="23.3" y="0" font-size="13.5">τ</tspan><tspan x="28.5" y="6.2" font-size="8.6">2</tspan></text>
</svg>
</body></html>
